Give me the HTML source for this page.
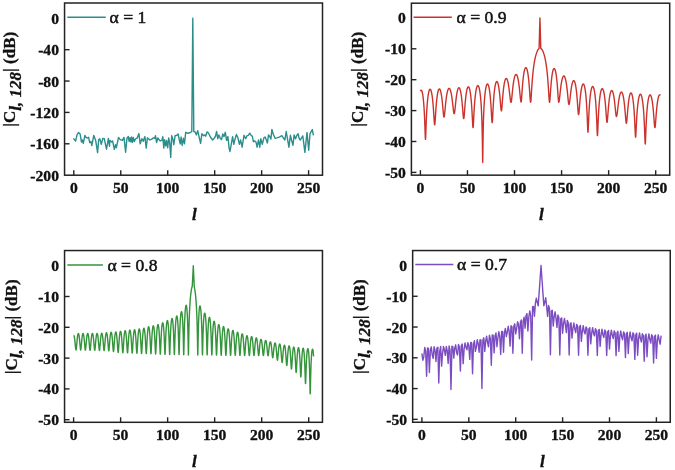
<!DOCTYPE html>
<html><head><meta charset="utf-8"><title>figure</title><style>html,body{margin:0;padding:0;background:#fff;}
body{width:675px;height:470px;position:relative;overflow:hidden;}
.tk{font-family:"Liberation Serif", "Times New Roman", serif;font-weight:bold;font-size:15.6px;fill:#111;stroke:#111;stroke-width:0.35px;}
.lg{font-family:"Liberation Serif", "Times New Roman", serif;font-size:17.6px;fill:#111;stroke:#111;stroke-width:0.5px;}
.xl{font-family:"Liberation Serif", "Times New Roman", serif;font-weight:bold;font-style:italic;font-size:17px;fill:#111;stroke:#111;stroke-width:0.35px;}
.yl{font-family:"Liberation Serif", "Times New Roman", serif;font-weight:bold;font-size:17px;fill:#111;stroke:#111;stroke-width:0.3px;}
.sub{font-style:italic;}
</style></head>
<body>
<svg width="675" height="470" viewBox="0 0 675 470" style="position:absolute;left:0;top:0">
<rect x="0" y="0" width="675" height="470" fill="#fff"/>
<clipPath id="clip0"><rect x="64.55" y="3.0" width="257.95" height="172.2"/></clipPath>
<g clip-path="url(#clip0)"><polyline points="73.4,138.4 75.6,141 77.1,134.7 78.6,132.5 80.1,133.9 81.5,142.1 82.3,139.9 83.3,143.3 84.9,135.4 86,137.3 87.5,138 88.6,137.3 89.7,142.5 90.9,141.4 91.8,145.5 93.8,135.4 95.7,140.6 97.6,152.6 98.7,139.5 99.8,138.8 101.3,144.4 102.8,138.4 104.3,138.8 106.5,149.2 108.4,138.4 109.5,146.2 110,140.4 111.7,142.1 112.6,140.9 114.3,149.4 115.5,144.7 116.4,147.7 118.5,137.4 120.2,139.6 122.3,140.4 124,137.4 125.6,152.3 127,137.9 128.3,136.6 129.1,141.5 130,137.8 130.8,141.8 131.6,137 132.4,142.3 133.3,137.5 134.3,141.5 135.5,139 137.2,137.9 138.9,133.6 140.2,143.8 141.9,138.7 143.2,141.3 144.9,136.6 146.2,148.1 147.4,137.9 150,140 151.7,139.1 153.4,137.9 154.7,138.3 155.5,135.7 156.6,142.6 157.8,137.9 158.9,139.6 160.2,140.9 161.9,140.4 162.8,136.6 163.8,148.1 164.6,139.6 165.7,146 166.6,140.5 167.7,147.7 168.7,137.9 169.7,143 170.7,157.4 171.7,135.7 173,139.6 173.8,144.7 175.1,135.7 176.8,135.3 178.1,134 179.4,140.4 180.2,143.8 181.1,137 182.2,145.5 183.4,138.3 184.5,143.8 185.7,132.3 187.4,133.2 190,132.8 191.8,131.5 192.8,18.3 193.8,131.5 195.1,131.9 196.4,134.9 197.7,130.6 198.9,136.2 200.6,143.4 201.9,133.6 203.6,135.7 204.9,134.9 205.7,136.2 207,131.9 208.3,132.8 210.4,137 212.6,140 214.3,138.3 215.5,136.2 216.6,131.5 217.7,138.7 218.9,134.9 220.2,138.3 221.5,139.6 222.8,134 224,136.6 225.3,132.3 226.6,140.4 227.9,136.6 229.1,148.1 230,151.5 231.3,143.8 232.6,136.6 233.8,144.3 234.7,140.4 236.4,134.5 237.8,137.4 239.4,144.3 240.6,140 242.1,147.2 244,135.3 245.7,138.7 247,135.7 248.3,135.3 249.7,133.2 251.3,135.7 252.3,136.2 253.4,141.7 254.7,140.9 256,142.1 257.1,147.2 258.5,140 259.8,147.2 260.8,138.7 262.3,144.3 263.9,137.9 265.1,137 266.2,139.6 267.4,143 268.5,134.9 270,137 270.9,139.1 271.9,129.4 273.4,134.5 275.1,138.3 276.8,137.9 278.5,137.4 280.2,136.6 281.9,135.7 283.6,138.3 284.9,140 286.2,131.5 287.4,138.3 288.9,147.2 290.4,135.3 291.5,140 293,145.3 294.1,135 295.5,138.8 296.8,135.4 298.1,133.7 298.9,137.6 300.2,140.1 302.8,135.9 304.9,152.4 307,132.4 308.7,150.3 310,133.7 312.3,129.5 313.4,135.4" fill="none" stroke="#2a8e8c" stroke-width="1.4" stroke-linejoin="round" stroke-linecap="butt"/></g>
<rect x="64.55" y="3.0" width="257.95" height="172.2" fill="none" stroke="#222" stroke-width="1.5"/>
<line x1="73.8" y1="175.2" x2="73.8" y2="170.2" stroke="#222" stroke-width="1.4"/>
<text x="73.8" y="193.3" text-anchor="middle" class="tk">0</text>
<line x1="120.76" y1="175.2" x2="120.76" y2="170.2" stroke="#222" stroke-width="1.4"/>
<text x="120.76" y="193.3" text-anchor="middle" class="tk">50</text>
<line x1="167.72" y1="175.2" x2="167.72" y2="170.2" stroke="#222" stroke-width="1.4"/>
<text x="167.72" y="193.3" text-anchor="middle" class="tk">100</text>
<line x1="214.68" y1="175.2" x2="214.68" y2="170.2" stroke="#222" stroke-width="1.4"/>
<text x="214.68" y="193.3" text-anchor="middle" class="tk">150</text>
<line x1="261.64" y1="175.2" x2="261.64" y2="170.2" stroke="#222" stroke-width="1.4"/>
<text x="261.64" y="193.3" text-anchor="middle" class="tk">200</text>
<line x1="308.6" y1="175.2" x2="308.6" y2="170.2" stroke="#222" stroke-width="1.4"/>
<text x="308.6" y="193.3" text-anchor="middle" class="tk">250</text>
<text x="58.95" y="23.8" text-anchor="end" class="tk">0</text>
<line x1="64.55" y1="49.67" x2="69.55" y2="49.67" stroke="#222" stroke-width="1.4"/>
<text x="58.95" y="55.17" text-anchor="end" class="tk">-40</text>
<line x1="64.55" y1="81.04" x2="69.55" y2="81.04" stroke="#222" stroke-width="1.4"/>
<text x="58.95" y="86.54" text-anchor="end" class="tk">-80</text>
<line x1="64.55" y1="112.41" x2="69.55" y2="112.41" stroke="#222" stroke-width="1.4"/>
<text x="58.95" y="117.91" text-anchor="end" class="tk">-120</text>
<line x1="64.55" y1="143.78" x2="69.55" y2="143.78" stroke="#222" stroke-width="1.4"/>
<text x="58.95" y="149.28" text-anchor="end" class="tk">-160</text>
<text x="58.95" y="180.65" text-anchor="end" class="tk">-200</text>
<line x1="67.3" y1="17.3" x2="105.8" y2="17.3" stroke="#2a8e8c" stroke-width="1.5"/>
<text x="109.6" y="23.2" class="lg">α = 1</text>
<text x="194.43" y="219.9" text-anchor="middle" class="xl">l</text>
<text transform="translate(15.1,126.7) rotate(-90)" class="yl">|C<tspan class="sub" dy="5.6">l, 128</tspan><tspan dy="-5.6">| (dB)</tspan></text>
<clipPath id="clip1"><rect x="411.4" y="3.2" width="258.30000000000007" height="171.95000000000002"/></clipPath>
<g clip-path="url(#clip1)"><polyline points="420.4,91.2 420.49,90.96 420.59,90.76 420.68,90.59 420.78,90.45 420.87,90.34 420.96,90.27 421.06,90.22 421.15,90.21 421.25,90.22 421.34,90.27 421.44,90.34 421.53,90.45 421.62,90.59 421.72,90.76 421.81,90.96 421.91,91.19 422,91.46 422.09,91.76 422.19,92.1 422.28,92.46 422.38,92.87 422.47,93.31 422.56,93.79 422.66,94.31 422.75,94.87 422.85,95.47 422.94,96.11 423.04,96.81 423.13,97.55 423.22,98.34 423.32,99.18 423.41,100.08 423.51,101.04 423.6,102.07 423.69,103.16 423.79,104.32 423.88,105.57 423.98,106.9 424.07,108.32 424.16,109.84 424.26,111.48 424.35,113.22 424.45,115.1 424.54,117.12 424.64,119.29 424.73,121.61 424.82,124.09 424.92,126.73 425.01,129.47 425.11,132.25 425.2,134.9 425.29,137.19 425.39,138.78 425.48,139.34 425.58,138.6 425.67,136.93 425.76,134.64 425.86,132.03 425.95,129.32 426.05,126.65 426.14,124.09 426.24,121.67 426.33,119.4 426.42,117.27 426.52,115.29 426.61,113.44 426.71,111.71 426.8,110.1 426.89,108.59 426.99,107.18 427.08,105.85 427.18,104.6 427.27,103.43 427.36,102.33 427.46,101.3 427.55,100.33 427.65,99.41 427.74,98.55 427.84,97.74 427.93,96.98 428.02,96.26 428.12,95.59 428.21,94.96 428.31,94.37 428.4,93.82 428.49,93.3 428.59,92.82 428.68,92.37 428.78,91.96 428.87,91.58 428.96,91.23 429.06,90.91 429.15,90.62 429.25,90.36 429.34,90.13 429.44,89.93 429.53,89.76 429.62,89.61 429.72,89.49 429.81,89.4 429.91,89.33 430,89.29 430.09,89.28 430.19,89.29 430.28,89.33 430.38,89.4 430.47,89.49 430.56,89.61 430.66,89.75 430.75,89.93 430.85,90.13 430.94,90.35 431.04,90.61 431.13,90.89 431.22,91.21 431.32,91.55 431.41,91.92 431.51,92.32 431.6,92.76 431.69,93.22 431.79,93.72 431.88,94.25 431.98,94.82 432.07,95.42 432.16,96.07 432.26,96.74 432.35,97.46 432.45,98.23 432.54,99.03 432.64,99.88 432.73,100.77 432.82,101.72 432.92,102.71 433.01,103.76 433.11,104.86 433.2,106.01 433.29,107.22 433.39,108.48 433.48,109.8 433.58,111.18 433.67,112.6 433.77,114.06 433.86,115.56 433.95,117.06 434.05,118.56 434.14,120.01 434.24,121.36 434.33,122.58 434.42,123.59 434.52,124.33 434.61,124.75 434.71,124.81 434.8,124.54 434.89,123.94 434.99,123.04 435.08,121.9 435.18,120.6 435.27,119.18 435.37,117.71 435.46,116.2 435.55,114.7 435.65,113.22 435.74,111.78 435.84,110.39 435.93,109.05 436.02,107.76 436.12,106.53 436.21,105.35 436.31,104.23 436.4,103.16 436.49,102.14 436.59,101.18 436.68,100.26 436.78,99.39 436.87,98.57 436.97,97.78 437.06,97.04 437.15,96.34 437.25,95.68 437.34,95.06 437.44,94.47 437.53,93.92 437.62,93.4 437.72,92.91 437.81,92.45 437.91,92.03 438,91.64 438.09,91.27 438.19,90.93 438.28,90.63 438.38,90.35 438.47,90.09 438.57,89.87 438.66,89.67 438.75,89.49 438.85,89.34 438.94,89.22 439.04,89.12 439.13,89.05 439.22,89 439.32,88.97 439.41,88.97 439.51,89 439.6,89.05 439.69,89.12 439.79,89.22 439.88,89.34 439.98,89.49 440.07,89.66 440.17,89.86 440.26,90.08 440.35,90.33 440.45,90.6 440.54,90.9 440.64,91.23 440.73,91.58 440.82,91.97 440.92,92.38 441.01,92.81 441.11,93.28 441.2,93.78 441.29,94.3 441.39,94.86 441.48,95.45 441.58,96.07 441.67,96.73 441.77,97.41 441.86,98.13 441.95,98.89 442.05,99.68 442.14,100.5 442.24,101.36 442.33,102.25 442.42,103.18 442.52,104.14 442.61,105.13 442.71,106.15 442.8,107.19 442.89,108.24 442.99,109.31 443.08,110.38 443.18,111.43 443.27,112.46 443.37,113.44 443.46,114.35 443.55,115.17 443.65,115.88 443.74,116.44 443.84,116.84 443.93,117.06 444.02,117.09 444.12,116.97 444.21,116.69 444.31,116.25 444.4,115.67 444.49,114.98 444.59,114.19 444.68,113.32 444.78,112.4 444.87,111.43 444.97,110.44 445.06,109.44 445.15,108.44 445.25,107.44 445.34,106.46 445.44,105.49 445.53,104.55 445.62,103.64 445.72,102.75 445.81,101.88 445.91,101.05 446,100.25 446.09,99.48 446.19,98.74 446.28,98.03 446.38,97.34 446.47,96.69 446.57,96.07 446.66,95.47 446.75,94.9 446.85,94.36 446.94,93.85 447.04,93.36 447.13,92.89 447.22,92.45 447.32,92.04 447.41,91.65 447.51,91.28 447.6,90.94 447.69,90.62 447.79,90.32 447.88,90.05 447.98,89.79 448.07,89.56 448.17,89.35 448.26,89.16 448.35,88.99 448.45,88.84 448.54,88.71 448.64,88.6 448.73,88.51 448.82,88.44 448.92,88.39 449.01,88.36 449.11,88.35 449.2,88.36 449.29,88.39 449.39,88.44 449.48,88.51 449.58,88.6 449.67,88.71 449.77,88.83 449.86,88.98 449.95,89.15 450.05,89.34 450.14,89.55 450.24,89.78 450.33,90.03 450.42,90.3 450.52,90.59 450.61,90.91 450.71,91.24 450.8,91.6 450.89,91.98 450.99,92.39 451.08,92.81 451.18,93.26 451.27,93.73 451.37,94.23 451.46,94.75 451.55,95.3 451.65,95.87 451.74,96.46 451.84,97.08 451.93,97.72 452.02,98.39 452.12,99.09 452.21,99.81 452.31,100.55 452.4,101.31 452.49,102.1 452.59,102.9 452.68,103.72 452.78,104.56 452.87,105.41 452.97,106.26 453.06,107.11 453.15,107.96 453.25,108.79 453.34,109.59 453.44,110.36 453.53,111.08 453.62,111.74 453.72,112.33 453.81,112.82 453.91,113.21 454,113.5 454.09,113.66 454.19,113.69 454.28,113.66 454.38,113.47 454.47,113.14 454.57,112.68 454.66,112.1 454.75,111.42 454.85,110.65 454.94,109.82 455.04,108.94 455.13,108.03 455.22,107.1 455.32,106.16 455.41,105.22 455.51,104.29 455.6,103.37 455.69,102.47 455.79,101.59 455.88,100.73 455.98,99.9 456.07,99.1 456.17,98.32 456.26,97.58 456.35,96.86 456.45,96.18 456.54,95.52 456.64,94.9 456.73,94.3 456.82,93.73 456.92,93.19 457.01,92.68 457.11,92.19 457.2,91.73 457.3,91.3 457.39,90.9 457.48,90.52 457.58,90.17 457.67,89.84 457.77,89.53 457.86,89.25 457.95,89 458.05,88.77 458.14,88.56 458.24,88.38 458.33,88.22 458.42,88.08 458.52,87.96 458.61,87.87 458.71,87.81 458.8,87.76 458.9,87.74 458.99,87.74 459.08,87.76 459.18,87.81 459.27,87.87 459.37,87.97 459.46,88.08 459.55,88.22 459.65,88.38 459.74,88.57 459.84,88.78 459.93,89.01 460.02,89.27 460.12,89.56 460.21,89.87 460.31,90.2 460.4,90.57 460.5,90.96 460.59,91.38 460.68,91.82 460.78,92.3 460.87,92.8 460.97,93.34 461.06,93.9 461.15,94.5 461.25,95.14 461.34,95.8 461.44,96.5 461.53,97.24 461.62,98.01 461.72,98.82 461.81,99.67 461.91,100.55 462,101.48 462.1,102.44 462.19,103.45 462.28,104.49 462.38,105.56 462.47,106.68 462.57,107.82 462.66,108.98 462.75,110.16 462.85,111.35 462.94,112.53 463.04,113.68 463.13,114.77 463.22,115.8 463.32,116.71 463.41,117.48 463.51,118.07 463.6,118.46 463.7,118.63 463.79,118.58 463.88,118.27 463.98,117.72 464.07,116.96 464.17,116.02 464.26,114.96 464.35,113.8 464.45,112.58 464.54,111.32 464.64,110.06 464.73,108.8 464.82,107.55 464.92,106.34 465.01,105.15 465.11,104.01 465.2,102.91 465.3,101.85 465.39,100.83 465.48,99.86 465.58,98.93 465.67,98.04 465.77,97.19 465.86,96.39 465.95,95.62 466.05,94.89 466.14,94.2 466.24,93.55 466.33,92.93 466.42,92.34 466.52,91.79 466.61,91.27 466.71,90.79 466.8,90.33 466.9,89.9 466.99,89.51 467.08,89.14 467.18,88.8 467.27,88.49 467.37,88.21 467.46,87.95 467.55,87.72 467.65,87.52 467.74,87.34 467.84,87.19 467.93,87.06 468.02,86.96 468.12,86.89 468.21,86.84 468.31,86.81 468.4,86.81 468.5,86.84 468.59,86.89 468.68,86.96 468.78,87.06 468.87,87.19 468.97,87.34 469.06,87.52 469.15,87.73 469.25,87.96 469.34,88.22 469.44,88.51 469.53,88.83 469.62,89.17 469.72,89.55 469.81,89.96 469.91,90.4 470,90.87 470.1,91.37 470.19,91.91 470.28,92.48 470.38,93.09 470.47,93.74 470.57,94.43 470.66,95.16 470.75,95.94 470.85,96.76 470.94,97.63 471.04,98.55 471.13,99.52 471.22,100.55 471.32,101.64 471.41,102.78 471.51,104 471.6,105.28 471.7,106.63 471.79,108.06 471.88,109.56 471.98,111.15 472.07,112.8 472.17,114.53 472.26,116.33 472.35,118.16 472.45,120.01 472.54,121.84 472.64,123.56 472.73,125.11 472.82,126.36 472.92,127.22 473.01,127.59 473.11,127.51 473.2,126.9 473.3,125.82 473.39,124.39 473.48,122.72 473.58,120.91 473.67,119.04 473.77,117.17 473.86,115.32 473.95,113.53 474.05,111.81 474.14,110.17 474.24,108.6 474.33,107.11 474.42,105.7 474.52,104.36 474.61,103.09 474.71,101.88 474.8,100.75 474.9,99.67 474.99,98.64 475.08,97.68 475.18,96.76 475.27,95.89 475.37,95.07 475.46,94.3 475.55,93.56 475.65,92.87 475.74,92.21 475.84,91.6 475.93,91.02 476.02,90.47 476.12,89.95 476.21,89.47 476.31,89.02 476.4,88.6 476.5,88.21 476.59,87.85 476.68,87.52 476.78,87.22 476.87,86.94 476.97,86.69 477.06,86.46 477.15,86.26 477.25,86.09 477.34,85.94 477.44,85.82 477.53,85.72 477.62,85.65 477.72,85.6 477.81,85.57 477.91,85.57 478,85.6 478.1,85.65 478.19,85.72 478.28,85.82 478.38,85.94 478.47,86.09 478.57,86.27 478.66,86.47 478.75,86.7 478.85,86.95 478.94,87.23 479.04,87.54 479.13,87.88 479.23,88.25 479.32,88.65 479.41,89.08 479.51,89.54 479.6,90.03 479.7,90.56 479.79,91.13 479.88,91.73 479.98,92.37 480.07,93.05 480.17,93.78 480.26,94.55 480.35,95.37 480.45,96.24 480.54,97.17 480.64,98.16 480.73,99.2 480.83,100.32 480.92,101.51 481.01,102.78 481.11,104.14 481.2,105.59 481.3,107.16 481.39,108.85 481.48,110.67 481.58,112.65 481.67,114.81 481.77,117.18 481.86,119.8 481.95,122.71 482.05,125.99 482.14,129.71 482.24,133.99 482.33,138.97 482.43,144.84 482.52,151.62 482.61,158.59 482.71,162.51 482.8,157.97 482.9,150.35 482.99,143.21 483.08,137.17 483.18,132.09 483.27,127.75 483.37,124 483.46,120.7 483.55,117.77 483.65,115.15 483.74,112.77 483.84,110.61 483.93,108.63 484.03,106.81 484.12,105.13 484.21,103.56 484.31,102.11 484.4,100.76 484.5,99.49 484.59,98.31 484.68,97.2 484.78,96.16 484.87,95.18 484.97,94.27 485.06,93.4 485.15,92.59 485.25,91.83 485.34,91.11 485.44,90.44 485.53,89.81 485.63,89.22 485.72,88.67 485.81,88.15 485.91,87.67 486,87.22 486.1,86.81 486.19,86.43 486.28,86.07 486.38,85.75 486.47,85.46 486.57,85.19 486.66,84.96 486.75,84.75 486.85,84.57 486.94,84.41 487.04,84.28 487.13,84.18 487.23,84.11 487.32,84.05 487.41,84.03 487.51,84.03 487.6,84.05 487.7,84.11 487.79,84.18 487.88,84.28 487.98,84.41 488.07,84.56 488.17,84.74 488.26,84.95 488.35,85.18 488.45,85.44 488.54,85.73 488.64,86.04 488.73,86.39 488.83,86.76 488.92,87.16 489.01,87.6 489.11,88.06 489.2,88.56 489.3,89.09 489.39,89.65 489.48,90.25 489.58,90.89 489.67,91.57 489.77,92.28 489.86,93.04 489.95,93.84 490.05,94.68 490.14,95.57 490.24,96.51 490.33,97.51 490.43,98.55 490.52,99.65 490.61,100.81 490.71,102.03 490.8,103.32 490.9,104.67 490.99,106.08 491.08,107.56 491.18,109.09 491.27,110.69 491.37,112.33 491.46,113.99 491.55,115.66 491.65,117.29 491.74,118.83 491.84,120.21 491.93,121.36 492.03,122.19 492.12,122.64 492.21,122.65 492.31,122.23 492.4,121.3 492.5,119.97 492.59,118.35 492.68,116.56 492.78,114.68 492.87,112.79 492.97,110.92 493.06,109.1 493.15,107.35 493.25,105.68 493.34,104.08 493.44,102.57 493.53,101.14 493.63,99.78 493.72,98.5 493.81,97.28 493.91,96.13 494,95.05 494.1,94.02 494.19,93.05 494.28,92.14 494.38,91.27 494.47,90.46 494.57,89.69 494.66,88.96 494.75,88.28 494.85,87.64 494.94,87.03 495.04,86.46 495.13,85.93 495.23,85.44 495.32,84.97 495.41,84.54 495.51,84.15 495.6,83.78 495.7,83.44 495.79,83.13 495.88,82.86 495.98,82.6 496.07,82.38 496.17,82.19 496.26,82.02 496.35,81.87 496.45,81.76 496.54,81.67 496.64,81.61 496.73,81.57 496.83,81.55 496.92,81.57 497.01,81.6 497.11,81.67 497.2,81.76 497.3,81.87 497.39,82.01 497.48,82.18 497.58,82.37 497.67,82.59 497.77,82.84 497.86,83.11 497.95,83.41 498.05,83.73 498.14,84.09 498.24,84.47 498.33,84.89 498.43,85.33 498.52,85.8 498.61,86.3 498.71,86.84 498.8,87.41 498.9,88.01 498.99,88.64 499.08,89.31 499.18,90.02 499.27,90.76 499.37,91.54 499.46,92.35 499.55,93.2 499.65,94.09 499.74,95.02 499.84,95.99 499.93,97 500.03,98.04 500.12,99.11 500.21,100.21 500.31,101.33 500.4,102.47 500.5,103.62 500.59,104.76 500.68,105.87 500.78,106.94 500.87,107.94 500.97,108.84 501.06,109.62 501.15,110.23 501.25,110.67 501.34,110.9 501.44,110.91 501.53,110.68 501.63,110.21 501.72,109.52 501.81,108.64 501.91,107.63 502,106.5 502.1,105.31 502.19,104.07 502.28,102.81 502.38,101.55 502.47,100.31 502.57,99.09 502.66,97.9 502.75,96.74 502.85,95.63 502.94,94.55 503.04,93.52 503.13,92.53 503.23,91.59 503.32,90.68 503.41,89.82 503.51,88.99 503.6,88.21 503.7,87.46 503.79,86.75 503.88,86.07 503.98,85.43 504.07,84.82 504.17,84.25 504.26,83.7 504.36,83.19 504.45,82.71 504.54,82.25 504.64,81.83 504.73,81.43 504.83,81.06 504.92,80.72 505.01,80.4 505.11,80.11 505.2,79.84 505.3,79.6 505.39,79.38 505.48,79.19 505.58,79.02 505.67,78.87 505.77,78.74 505.86,78.64 505.96,78.56 506.05,78.51 506.14,78.48 506.24,78.46 506.33,78.48 506.43,78.51 506.52,78.56 506.61,78.64 506.71,78.74 506.8,78.86 506.9,79.01 506.99,79.17 507.08,79.36 507.18,79.58 507.27,79.81 507.37,80.07 507.46,80.35 507.56,80.66 507.65,80.98 507.74,81.34 507.84,81.71 507.93,82.11 508.03,82.54 508.12,82.99 508.21,83.46 508.31,83.97 508.4,84.49 508.5,85.05 508.59,85.62 508.68,86.23 508.78,86.86 508.87,87.51 508.97,88.2 509.06,88.9 509.16,89.63 509.25,90.39 509.34,91.16 509.44,91.95 509.53,92.77 509.63,93.59 509.72,94.42 509.81,95.26 509.91,96.1 510,96.92 510.1,97.73 510.19,98.51 510.28,99.26 510.38,99.95 510.47,100.57 510.57,101.12 510.66,101.57 510.76,101.92 510.85,102.15 510.94,102.27 511.04,102.26 511.13,102.17 511.23,101.93 511.32,101.55 511.41,101.02 511.51,100.39 511.6,99.65 511.7,98.83 511.79,97.96 511.88,97.04 511.98,96.09 512.07,95.12 512.17,94.15 512.26,93.19 512.36,92.23 512.45,91.29 512.54,90.37 512.64,89.47 512.73,88.59 512.83,87.75 512.92,86.93 513.01,86.14 513.11,85.37 513.2,84.64 513.3,83.94 513.39,83.26 513.48,82.62 513.58,82 513.67,81.41 513.77,80.84 513.86,80.31 513.96,79.8 514.05,79.31 514.14,78.85 514.24,78.42 514.33,78.01 514.43,77.63 514.52,77.26 514.61,76.93 514.71,76.61 514.8,76.32 514.9,76.05 514.99,75.8 515.08,75.57 515.18,75.37 515.27,75.18 515.37,75.02 515.46,74.88 515.56,74.75 515.65,74.65 515.74,74.57 515.84,74.51 515.93,74.47 516.03,74.45 516.12,74.45 516.21,74.47 516.31,74.51 516.4,74.57 516.5,74.65 516.59,74.75 516.68,74.88 516.78,75.02 516.87,75.18 516.97,75.37 517.06,75.57 517.16,75.8 517.25,76.05 517.34,76.32 517.44,76.61 517.53,76.92 517.63,77.26 517.72,77.62 517.81,78.01 517.91,78.41 518,78.85 518.1,79.31 518.19,79.79 518.28,80.3 518.38,80.83 518.47,81.39 518.57,81.98 518.66,82.6 518.76,83.24 518.85,83.91 518.94,84.61 519.04,85.34 519.13,86.1 519.23,86.88 519.32,87.7 519.41,88.54 519.51,89.4 519.6,90.29 519.7,91.21 519.79,92.14 519.88,93.08 519.98,94.04 520.07,94.99 520.17,95.94 520.26,96.87 520.36,97.78 520.45,98.63 520.54,99.43 520.64,100.15 520.73,100.77 520.83,101.27 520.92,101.64 521.01,101.87 521.11,101.95 521.2,101.8 521.3,101.35 521.39,100.64 521.48,99.7 521.58,98.59 521.67,97.36 521.77,96.04 521.86,94.68 521.96,93.3 522.05,91.92 522.14,90.57 522.24,89.24 522.33,87.96 522.43,86.71 522.52,85.52 522.61,84.37 522.71,83.27 522.8,82.22 522.9,81.22 522.99,80.26 523.08,79.35 523.18,78.49 523.27,77.66 523.37,76.88 523.46,76.13 523.56,75.43 523.65,74.76 523.74,74.13 523.84,73.53 523.93,72.96 524.03,72.43 524.12,71.93 524.21,71.47 524.31,71.03 524.4,70.62 524.5,70.24 524.59,69.88 524.68,69.56 524.78,69.26 524.87,68.99 524.97,68.74 525.06,68.52 525.16,68.33 525.25,68.16 525.34,68.01 525.44,67.89 525.53,67.8 525.63,67.72 525.72,67.68 525.81,67.65 525.91,67.65 526,67.68 526.1,67.72 526.19,67.8 526.28,67.89 526.38,68.01 526.47,68.16 526.57,68.33 526.66,68.52 526.76,68.74 526.85,68.99 526.94,69.26 527.04,69.56 527.13,69.89 527.23,70.24 527.32,70.62 527.41,71.03 527.51,71.47 527.6,71.94 527.7,72.44 527.79,72.97 527.89,73.53 527.98,74.13 528.07,74.77 528.17,75.44 528.26,76.14 528.36,76.89 528.45,77.68 528.54,78.5 528.64,79.37 528.73,80.29 528.83,81.25 528.92,82.26 529.01,83.31 529.11,84.42 529.2,85.57 529.3,86.77 529.39,88.02 529.49,89.32 529.58,90.66 529.67,92.03 529.77,93.42 529.86,94.82 529.96,96.2 530.05,97.54 530.14,98.8 530.24,99.94 530.33,100.9 530.43,101.63 530.52,102.1 530.61,102.26 530.71,102.08 530.8,101.55 530.9,100.72 530.99,99.64 531.09,98.36 531.18,96.96 531.27,95.47 531.37,93.94 531.46,92.39 531.56,90.86 531.65,89.35 531.74,87.88 531.84,86.44 531.93,85.06 532.03,83.72 532.12,82.43 532.21,81.18 532.31,79.98 532.4,78.83 532.5,77.72 532.59,76.65 532.69,75.62 532.78,74.63 532.87,73.67 532.97,72.75 533.06,71.86 533.16,71 533.25,70.18 533.34,69.37 533.44,68.6 533.53,67.85 533.63,67.13 533.72,66.43 533.81,65.75 533.91,65.1 534,64.46 534.1,63.85 534.19,63.25 534.29,62.67 534.38,62.11 534.47,61.57 534.57,61.04 534.66,60.53 534.76,60.03 534.85,59.55 534.94,59.08 535.04,58.63 535.13,58.19 535.23,57.76 535.32,57.35 535.41,56.95 535.51,56.56 535.6,56.18 535.7,55.81 535.79,55.46 535.89,55.11 535.98,54.78 536.07,54.45 536.17,54.14 536.26,53.83 536.36,53.54 536.45,53.25 536.54,52.98 536.64,52.71 536.73,52.45 536.83,52.2 536.92,51.96 537.01,51.73 537.11,51.51 537.2,51.29 537.3,51.08 537.39,50.88 537.49,50.69 537.58,50.51 537.67,50.33 537.77,50.16 537.86,50 537.96,49.84 538.05,49.7 538.14,49.56 538.24,49.42 538.33,49.3 538.43,49.18 538.52,49.07 538.61,48.96 538.71,48.86 538.8,48.77 538.9,48.69 538.99,48.61 539.09,48.54 539.93,17.9 540.78,48.36 540.87,48.42 540.97,48.47 541.06,48.54 541.16,48.61 541.25,48.69 541.34,48.77 541.44,48.86 541.53,48.96 541.63,49.07 541.72,49.18 541.81,49.3 541.91,49.42 542,49.56 542.1,49.7 542.19,49.84 542.29,50 542.38,50.16 542.47,50.33 542.57,50.51 542.66,50.69 542.76,50.88 542.85,51.08 542.94,51.29 543.04,51.51 543.13,51.73 543.23,51.96 543.32,52.2 543.41,52.45 543.51,52.71 543.6,52.98 543.7,53.25 543.79,53.54 543.89,53.83 543.98,54.14 544.07,54.45 544.17,54.78 544.26,55.11 544.36,55.46 544.45,55.81 544.54,56.18 544.64,56.56 544.73,56.95 544.83,57.35 544.92,57.76 545.01,58.19 545.11,58.63 545.2,59.08 545.3,59.55 545.39,60.03 545.49,60.53 545.58,61.04 545.67,61.57 545.77,62.11 545.86,62.67 545.96,63.25 546.05,63.85 546.14,64.46 546.24,65.1 546.33,65.75 546.43,66.43 546.52,67.13 546.61,67.85 546.71,68.6 546.8,69.37 546.9,70.18 546.99,71 547.09,71.86 547.18,72.75 547.27,73.67 547.37,74.63 547.46,75.62 547.56,76.65 547.65,77.72 547.74,78.83 547.84,79.98 547.93,81.18 548.03,82.43 548.12,83.72 548.21,85.06 548.31,86.44 548.4,87.88 548.5,89.35 548.59,90.86 548.69,92.39 548.78,93.94 548.87,95.47 548.97,96.96 549.06,98.36 549.16,99.64 549.25,100.72 549.34,101.55 549.44,102.08 549.53,102.26 549.63,102.1 549.72,101.65 549.82,100.93 549.91,99.98 550,98.86 550.1,97.62 550.19,96.29 550.29,94.92 550.38,93.54 550.47,92.16 550.57,90.8 550.66,89.48 550.76,88.19 550.85,86.95 550.94,85.76 551.04,84.62 551.13,83.53 551.23,82.49 551.32,81.49 551.42,80.54 551.51,79.64 551.6,78.78 551.7,77.97 551.79,77.2 551.89,76.47 551.98,75.78 552.07,75.12 552.17,74.51 552.26,73.92 552.36,73.38 552.45,72.86 552.54,72.38 552.64,71.93 552.73,71.51 552.83,71.12 552.92,70.77 553.02,70.44 553.11,70.13 553.2,69.86 553.3,69.61 553.39,69.39 553.49,69.2 553.58,69.03 553.67,68.89 553.77,68.78 553.86,68.69 553.96,68.63 554.05,68.59 554.14,68.58 554.24,68.59 554.33,68.63 554.43,68.69 554.52,68.78 554.62,68.89 554.71,69.03 554.8,69.2 554.9,69.39 554.99,69.61 555.09,69.86 555.18,70.13 555.27,70.44 555.37,70.77 555.46,71.12 555.56,71.51 555.65,71.93 555.74,72.38 555.84,72.86 555.93,73.38 556.03,73.92 556.12,74.51 556.22,75.12 556.31,75.78 556.4,76.47 556.5,77.2 556.59,77.97 556.69,78.78 556.78,79.64 556.87,80.54 556.97,81.49 557.06,82.49 557.16,83.53 557.25,84.62 557.34,85.76 557.44,86.95 557.53,88.19 557.63,89.48 557.72,90.8 557.82,92.16 557.91,93.54 558,94.92 558.1,96.29 558.19,97.62 558.29,98.86 558.38,99.98 558.47,100.93 558.57,101.65 558.66,102.1 558.76,102.26 558.85,102.21 558.94,102.02 559.04,101.71 559.13,101.27 559.23,100.73 559.32,100.09 559.42,99.38 559.51,98.61 559.6,97.79 559.7,96.93 559.79,96.06 559.89,95.17 559.98,94.27 560.07,93.39 560.17,92.5 560.26,91.64 560.36,90.79 560.45,89.96 560.54,89.15 560.64,88.36 560.73,87.6 560.83,86.87 560.92,86.16 561.02,85.48 561.11,84.82 561.2,84.19 561.3,83.58 561.39,83.01 561.49,82.45 561.58,81.92 561.67,81.42 561.77,80.94 561.86,80.49 561.96,80.06 562.05,79.65 562.14,79.27 562.24,78.9 562.33,78.57 562.43,78.25 562.52,77.95 562.62,77.68 562.71,77.43 562.8,77.2 562.9,76.99 562.99,76.8 563.09,76.63 563.18,76.48 563.27,76.35 563.37,76.24 563.46,76.15 563.56,76.08 563.65,76.03 563.74,76 563.84,75.99 563.93,76 564.03,76.03 564.12,76.08 564.22,76.15 564.31,76.24 564.4,76.35 564.5,76.48 564.59,76.63 564.69,76.8 564.78,76.99 564.87,77.2 564.97,77.44 565.06,77.69 565.16,77.97 565.25,78.27 565.34,78.59 565.44,78.93 565.53,79.3 565.63,79.69 565.72,80.1 565.82,80.54 565.91,81 566,81.49 566.1,82.01 566.19,82.55 566.29,83.11 566.38,83.71 566.47,84.33 566.57,84.98 566.66,85.66 566.76,86.37 566.85,87.11 566.94,87.88 567.04,88.68 567.13,89.51 567.23,90.36 567.32,91.25 567.42,92.16 567.51,93.09 567.6,94.05 567.7,95.02 567.79,96 567.89,96.99 567.98,97.98 568.07,98.95 568.17,99.9 568.26,100.8 568.36,101.64 568.45,102.41 568.54,103.08 568.64,103.64 568.73,104.05 568.83,104.32 568.92,104.42 569.02,104.44 569.11,104.34 569.2,104.11 569.3,103.77 569.39,103.33 569.49,102.79 569.58,102.17 569.67,101.48 569.77,100.74 569.86,99.96 569.96,99.16 570.05,98.33 570.14,97.49 570.24,96.65 570.33,95.82 570.43,94.99 570.52,94.18 570.62,93.38 570.71,92.6 570.8,91.85 570.9,91.12 570.99,90.41 571.09,89.72 571.18,89.06 571.27,88.43 571.37,87.82 571.46,87.24 571.56,86.69 571.65,86.16 571.74,85.65 571.84,85.18 571.93,84.72 572.03,84.3 572.12,83.89 572.22,83.51 572.31,83.16 572.4,82.83 572.5,82.52 572.59,82.24 572.69,81.98 572.78,81.75 572.87,81.53 572.97,81.34 573.06,81.17 573.16,81.03 573.25,80.91 573.35,80.81 573.44,80.73 573.53,80.67 573.63,80.64 573.72,80.63 573.82,80.64 573.91,80.67 574,80.73 574.1,80.81 574.19,80.91 574.29,81.03 574.38,81.18 574.47,81.35 574.57,81.55 574.66,81.77 574.76,82.01 574.85,82.28 574.95,82.58 575.04,82.9 575.13,83.25 575.23,83.62 575.32,84.02 575.42,84.45 575.51,84.91 575.6,85.4 575.7,85.92 575.79,86.47 575.89,87.06 575.98,87.67 576.07,88.32 576.17,89.01 576.26,89.74 576.36,90.5 576.45,91.3 576.55,92.15 576.64,93.03 576.73,93.96 576.83,94.94 576.92,95.96 577.02,97.02 577.11,98.13 577.2,99.29 577.3,100.5 577.39,101.75 577.49,103.03 577.58,104.35 577.67,105.69 577.77,107.04 577.86,108.38 577.96,109.68 578.05,110.92 578.15,112.05 578.24,113.03 578.33,113.81 578.43,114.35 578.52,114.62 578.62,114.63 578.71,114.41 578.8,113.97 578.9,113.33 578.99,112.53 579.09,111.59 579.18,110.55 579.27,109.43 579.37,108.27 579.46,107.09 579.56,105.9 579.65,104.71 579.75,103.55 579.84,102.41 579.93,101.3 580.03,100.23 580.12,99.19 580.22,98.19 580.31,97.23 580.4,96.32 580.5,95.44 580.59,94.6 580.69,93.8 580.78,93.03 580.87,92.31 580.97,91.61 581.06,90.96 581.16,90.34 581.25,89.75 581.35,89.19 581.44,88.67 581.53,88.18 581.63,87.72 581.72,87.28 581.82,86.88 581.91,86.5 582,86.16 582.1,85.84 582.19,85.54 582.29,85.28 582.38,85.04 582.47,84.83 582.57,84.64 582.66,84.47 582.76,84.34 582.85,84.23 582.95,84.14 583.04,84.08 583.13,84.04 583.23,84.03 583.32,84.04 583.42,84.08 583.51,84.14 583.6,84.23 583.7,84.34 583.79,84.48 583.89,84.64 583.98,84.84 584.07,85.05 584.17,85.3 584.26,85.57 584.36,85.87 584.45,86.21 584.55,86.57 584.64,86.96 584.73,87.38 584.83,87.83 584.92,88.32 585.02,88.84 585.11,89.4 585.2,89.99 585.3,90.63 585.39,91.3 585.49,92.02 585.58,92.78 585.67,93.59 585.77,94.44 585.86,95.35 585.96,96.32 586.05,97.34 586.15,98.42 586.24,99.58 586.33,100.8 586.43,102.1 586.52,103.49 586.62,104.96 586.71,106.54 586.8,108.21 586.9,110 586.99,111.91 587.09,113.94 587.18,116.09 587.27,118.38 587.37,120.76 587.46,123.22 587.56,125.68 587.65,128.02 587.75,130.05 587.84,131.53 587.93,132.23 588.03,131.89 588.12,130.85 588.22,129.27 588.31,127.33 588.4,125.2 588.5,122.98 588.59,120.78 588.69,118.64 588.78,116.58 588.87,114.62 588.97,112.77 589.06,111.02 589.16,109.37 589.25,107.81 589.35,106.35 589.44,104.97 589.53,103.67 589.63,102.44 589.72,101.28 589.82,100.19 589.91,99.16 590,98.19 590.1,97.27 590.19,96.4 590.29,95.59 590.38,94.81 590.47,94.08 590.57,93.4 590.66,92.75 590.76,92.14 590.85,91.57 590.95,91.04 591.04,90.54 591.13,90.07 591.23,89.63 591.32,89.23 591.42,88.86 591.51,88.51 591.6,88.2 591.7,87.91 591.79,87.65 591.89,87.42 591.98,87.21 592.07,87.03 592.17,86.88 592.26,86.75 592.36,86.65 592.45,86.58 592.55,86.53 592.64,86.5 592.73,86.5 592.83,86.53 592.92,86.58 593.02,86.65 593.11,86.75 593.2,86.88 593.3,87.03 593.39,87.21 593.49,87.42 593.58,87.65 593.67,87.91 593.77,88.2 593.86,88.52 593.96,88.86 594.05,89.24 594.15,89.64 594.24,90.08 594.33,90.55 594.43,91.05 594.52,91.59 594.62,92.17 594.71,92.78 594.8,93.43 594.9,94.12 594.99,94.86 595.09,95.64 595.18,96.46 595.27,97.34 595.37,98.27 595.46,99.26 595.56,100.3 595.65,101.41 595.75,102.59 595.84,103.84 595.93,105.18 596.03,106.59 596.12,108.1 596.22,109.71 596.31,111.43 596.4,113.27 596.5,115.22 596.59,117.31 596.69,119.53 596.78,121.88 596.88,124.33 596.97,126.86 597.06,129.37 597.16,131.73 597.25,133.73 597.35,135.11 597.44,135.63 597.53,135.06 597.63,133.79 597.72,131.99 597.82,129.88 597.91,127.61 598,125.3 598.1,123.04 598.19,120.85 598.29,118.77 598.38,116.8 598.48,114.93 598.57,113.18 598.66,111.53 598.76,109.98 598.85,108.52 598.95,107.15 599.04,105.85 599.13,104.63 599.23,103.48 599.32,102.4 599.42,101.37 599.51,100.41 599.6,99.49 599.7,98.63 599.79,97.82 599.89,97.05 599.98,96.33 600.08,95.64 600.17,95 600.26,94.39 600.36,93.83 600.45,93.29 600.55,92.79 600.64,92.32 600.73,91.89 600.83,91.48 600.92,91.11 601.02,90.76 601.11,90.44 601.2,90.15 601.3,89.89 601.39,89.65 601.49,89.44 601.58,89.26 601.68,89.1 601.77,88.96 601.86,88.85 601.96,88.77 602.05,88.71 602.15,88.67 602.24,88.66 602.33,88.67 602.43,88.71 602.52,88.77 602.62,88.85 602.71,88.96 602.8,89.1 602.9,89.25 602.99,89.44 603.09,89.64 603.18,89.88 603.28,90.13 603.37,90.42 603.46,90.73 603.56,91.07 603.65,91.43 603.75,91.83 603.84,92.25 603.93,92.7 604.03,93.18 604.12,93.69 604.22,94.24 604.31,94.81 604.4,95.42 604.5,96.07 604.59,96.75 604.69,97.47 604.78,98.22 604.88,99.02 604.97,99.85 605.06,100.73 605.16,101.65 605.25,102.61 605.35,103.62 605.44,104.67 605.53,105.77 605.63,106.92 605.72,108.11 605.82,109.34 605.91,110.61 606,111.91 606.1,113.24 606.19,114.58 606.29,115.9 606.38,117.2 606.48,118.44 606.57,119.58 606.66,120.57 606.76,121.39 606.85,121.98 606.95,122.3 607.04,122.34 607.13,122.15 607.23,121.71 607.32,121.06 607.42,120.21 607.51,119.22 607.6,118.12 607.7,116.94 607.79,115.72 607.89,114.47 607.98,113.23 608.08,111.99 608.17,110.77 608.26,109.59 608.36,108.44 608.45,107.33 608.55,106.25 608.64,105.23 608.73,104.24 608.83,103.29 608.92,102.39 609.02,101.53 609.11,100.71 609.2,99.93 609.3,99.18 609.39,98.48 609.49,97.81 609.58,97.17 609.68,96.57 609.77,96 609.86,95.46 609.96,94.96 610.05,94.48 610.15,94.04 610.24,93.62 610.33,93.23 610.43,92.87 610.52,92.54 610.62,92.24 610.71,91.96 610.8,91.7 610.9,91.48 610.99,91.27 611.09,91.09 611.18,90.94 611.28,90.81 611.37,90.7 611.46,90.62 611.56,90.56 611.65,90.53 611.75,90.51 611.84,90.53 611.93,90.56 612.03,90.62 612.12,90.7 612.22,90.81 612.31,90.94 612.4,91.09 612.5,91.26 612.59,91.46 612.69,91.69 612.78,91.94 612.88,92.21 612.97,92.51 613.06,92.83 613.16,93.18 613.25,93.56 613.35,93.96 613.44,94.39 613.53,94.84 613.63,95.33 613.72,95.84 613.82,96.38 613.91,96.94 614,97.54 614.1,98.17 614.19,98.83 614.29,99.51 614.38,100.23 614.48,100.98 614.57,101.75 614.66,102.56 614.76,103.39 614.85,104.26 614.95,105.14 615.04,106.05 615.13,106.98 615.23,107.92 615.32,108.87 615.42,109.82 615.51,110.76 615.6,111.69 615.7,112.58 615.79,113.42 615.89,114.19 615.98,114.88 616.08,115.47 616.17,115.93 616.26,116.26 616.36,116.45 616.45,116.47 616.55,116.47 616.64,116.34 616.73,116.09 616.83,115.73 616.92,115.27 617.02,114.71 617.11,114.08 617.2,113.39 617.3,112.64 617.39,111.86 617.49,111.05 617.58,110.22 617.68,109.38 617.77,108.54 617.86,107.71 617.96,106.88 618.05,106.07 618.15,105.27 618.24,104.5 618.33,103.74 618.43,103.01 618.52,102.3 618.62,101.61 618.71,100.95 618.8,100.31 618.9,99.7 618.99,99.11 619.09,98.55 619.18,98.02 619.28,97.5 619.37,97.02 619.46,96.56 619.56,96.12 619.65,95.7 619.75,95.31 619.84,94.95 619.93,94.6 620.03,94.28 620.12,93.98 620.22,93.7 620.31,93.45 620.4,93.22 620.5,93.01 620.59,92.82 620.69,92.65 620.78,92.5 620.88,92.38 620.97,92.27 621.06,92.19 621.16,92.13 621.25,92.08 621.35,92.06 621.44,92.06 621.53,92.08 621.63,92.13 621.72,92.19 621.82,92.27 621.91,92.38 622.01,92.51 622.1,92.66 622.19,92.83 622.29,93.02 622.38,93.24 622.48,93.47 622.57,93.74 622.66,94.02 622.76,94.33 622.85,94.66 622.95,95.02 623.04,95.41 623.13,95.81 623.23,96.25 623.32,96.71 623.42,97.2 623.51,97.72 623.61,98.27 623.7,98.85 623.79,99.46 623.89,100.1 623.98,100.77 624.08,101.47 624.17,102.21 624.26,102.99 624.36,103.8 624.45,104.64 624.55,105.52 624.64,106.44 624.73,107.4 624.83,108.39 624.92,109.42 625.02,110.48 625.11,111.58 625.21,112.7 625.3,113.84 625.39,114.99 625.49,116.15 625.58,117.29 625.68,118.41 625.77,119.48 625.86,120.47 625.96,121.35 626.05,122.11 626.15,122.69 626.24,123.09 626.33,123.27 626.43,123.26 626.52,123.02 626.62,122.56 626.71,121.9 626.81,121.07 626.9,120.11 626.99,119.05 627.09,117.92 627.18,116.75 627.28,115.56 627.37,114.36 627.46,113.18 627.56,112.01 627.65,110.87 627.75,109.77 627.84,108.7 627.93,107.67 628.03,106.67 628.12,105.72 628.22,104.81 628.31,103.94 628.41,103.11 628.5,102.32 628.59,101.56 628.69,100.85 628.78,100.17 628.88,99.52 628.97,98.91 629.06,98.34 629.16,97.79 629.25,97.28 629.35,96.8 629.44,96.36 629.53,95.94 629.63,95.55 629.72,95.19 629.82,94.86 629.91,94.56 630.01,94.28 630.1,94.03 630.19,93.81 630.29,93.62 630.38,93.45 630.48,93.31 630.57,93.19 630.66,93.1 630.76,93.04 630.85,93 630.95,92.99 631.04,93 631.13,93.04 631.23,93.1 631.32,93.19 631.42,93.31 631.51,93.45 631.61,93.63 631.7,93.82 631.79,94.05 631.89,94.3 631.98,94.58 632.08,94.9 632.17,95.24 632.26,95.61 632.36,96.01 632.45,96.45 632.55,96.92 632.64,97.42 632.73,97.96 632.83,98.53 632.92,99.15 633.02,99.8 633.11,100.5 633.21,101.24 633.3,102.02 633.39,102.85 633.49,103.74 633.58,104.68 633.68,105.67 633.77,106.72 633.86,107.84 633.96,109.02 634.05,110.28 634.15,111.62 634.24,113.03 634.33,114.53 634.43,116.13 634.52,117.82 634.62,119.61 634.71,121.5 634.81,123.48 634.9,125.55 634.99,127.68 635.09,129.83 635.18,131.92 635.28,133.86 635.37,135.48 635.46,136.64 635.56,137.17 635.65,136.94 635.75,136.16 635.84,134.91 635.93,133.33 636.03,131.53 636.12,129.63 636.22,127.68 636.31,125.75 636.41,123.87 636.5,122.06 636.59,120.32 636.69,118.67 636.78,117.1 636.88,115.6 636.97,114.19 637.06,112.86 637.16,111.59 637.25,110.39 637.35,109.26 637.44,108.19 637.53,107.17 637.63,106.21 637.72,105.3 637.82,104.44 637.91,103.63 638.01,102.86 638.1,102.13 638.19,101.44 638.29,100.79 638.38,100.18 638.48,99.61 638.57,99.06 638.66,98.56 638.76,98.08 638.85,97.64 638.95,97.22 639.04,96.83 639.13,96.48 639.23,96.15 639.32,95.85 639.42,95.57 639.51,95.33 639.61,95.1 639.7,94.91 639.79,94.74 639.89,94.59 639.98,94.47 640.08,94.37 640.17,94.3 640.26,94.25 640.36,94.23 640.45,94.23 640.55,94.25 640.64,94.3 640.73,94.37 640.83,94.47 640.92,94.59 641.02,94.74 641.11,94.91 641.21,95.11 641.3,95.33 641.39,95.58 641.49,95.85 641.58,96.16 641.68,96.49 641.77,96.85 641.86,97.24 641.96,97.66 642.05,98.11 642.15,98.59 642.24,99.1 642.33,99.65 642.43,100.24 642.52,100.86 642.62,101.52 642.71,102.22 642.81,102.96 642.9,103.75 642.99,104.58 643.09,105.46 643.18,106.4 643.28,107.39 643.37,108.44 643.46,109.56 643.56,110.74 643.65,112 643.75,113.33 643.84,114.75 643.94,116.27 644.03,117.88 644.12,119.6 644.22,121.43 644.31,123.39 644.41,125.48 644.5,127.7 644.59,130.05 644.69,132.51 644.78,135.05 644.88,137.57 644.97,139.96 645.06,141.99 645.16,143.41 645.25,143.97 645.35,143.3 645.44,141.82 645.54,139.79 645.63,137.44 645.72,134.97 645.82,132.49 645.91,130.09 646.01,127.79 646.1,125.62 646.19,123.57 646.29,121.65 646.38,119.85 646.48,118.16 646.57,116.58 646.66,115.09 646.76,113.69 646.85,112.37 646.95,111.14 647.04,109.97 647.14,108.87 647.23,107.83 647.32,106.85 647.42,105.93 647.51,105.06 647.61,104.23 647.7,103.46 647.79,102.72 647.89,102.03 647.98,101.38 648.08,100.77 648.17,100.19 648.26,99.65 648.36,99.14 648.45,98.67 648.55,98.22 648.64,97.81 648.74,97.43 648.83,97.07 648.92,96.74 649.02,96.45 649.11,96.17 649.21,95.93 649.3,95.71 649.39,95.51 649.49,95.35 649.58,95.2 649.68,95.08 649.77,94.99 649.86,94.92 649.96,94.87 650.05,94.84 650.15,94.84 650.24,94.87 650.34,94.91 650.43,94.99 650.52,95.08 650.62,95.2 650.71,95.34 650.81,95.51 650.9,95.7 650.99,95.92 651.09,96.16 651.18,96.42 651.28,96.71 651.37,97.03 651.46,97.37 651.56,97.75 651.65,98.14 651.75,98.57 651.84,99.02 651.94,99.51 652.03,100.02 652.12,100.57 652.22,101.15 652.31,101.76 652.41,102.4 652.5,103.08 652.59,103.79 652.69,104.55 652.78,105.34 652.88,106.16 652.97,107.03 653.06,107.94 653.16,108.89 653.25,109.88 653.35,110.92 653.44,112 653.54,113.12 653.63,114.28 653.72,115.47 653.82,116.7 653.91,117.95 654.01,119.22 654.1,120.49 654.19,121.75 654.29,122.96 654.38,124.11 654.48,125.16 654.57,126.07 654.66,126.8 654.76,127.31 654.85,127.58 654.95,127.59 655.04,127.45 655.14,127.04 655.23,126.41 655.32,125.57 655.42,124.58 655.51,123.46 655.61,122.27 655.7,121.02 655.79,119.75 655.89,118.47 655.98,117.2 656.08,115.96 656.17,114.74 656.26,113.57 656.36,112.43 656.45,111.33 656.55,110.27 656.64,109.26 656.74,108.29 656.83,107.37 656.92,106.48 657.02,105.64 657.11,104.83 657.21,104.07 657.3,103.34 657.39,102.65 657.49,101.99 657.58,101.37 657.68,100.78 657.77,100.22 657.86,99.7 657.96,99.2 658.05,98.74 658.15,98.3 658.24,97.89 658.34,97.51 658.43,97.16 658.52,96.84 658.62,96.54 658.71,96.26 658.81,96.01 658.9,95.79 658.99,95.59 659.09,95.41 659.18,95.26 659.28,95.13 659.37,95.03 659.46,94.95 659.56,94.89 659.65,94.85 659.75,94.84 659.84,94.85 659.94,94.89 660.03,94.95 660.12,95.03 660.22,95.13 660.31,95.26 660.41,95.41" fill="none" stroke="#cc322c" stroke-width="1.4" stroke-linejoin="round" stroke-linecap="butt"/></g>
<rect x="411.4" y="3.2" width="258.3" height="171.95" fill="none" stroke="#222" stroke-width="1.5"/>
<line x1="420.4" y1="175.15" x2="420.4" y2="170.15" stroke="#222" stroke-width="1.4"/>
<text x="420.4" y="193.25" text-anchor="middle" class="tk">0</text>
<line x1="467.46" y1="175.15" x2="467.46" y2="170.15" stroke="#222" stroke-width="1.4"/>
<text x="467.46" y="193.25" text-anchor="middle" class="tk">50</text>
<line x1="514.52" y1="175.15" x2="514.52" y2="170.15" stroke="#222" stroke-width="1.4"/>
<text x="514.52" y="193.25" text-anchor="middle" class="tk">100</text>
<line x1="561.58" y1="175.15" x2="561.58" y2="170.15" stroke="#222" stroke-width="1.4"/>
<text x="561.58" y="193.25" text-anchor="middle" class="tk">150</text>
<line x1="608.64" y1="175.15" x2="608.64" y2="170.15" stroke="#222" stroke-width="1.4"/>
<text x="608.64" y="193.25" text-anchor="middle" class="tk">200</text>
<line x1="655.7" y1="175.15" x2="655.7" y2="170.15" stroke="#222" stroke-width="1.4"/>
<text x="655.7" y="193.25" text-anchor="middle" class="tk">250</text>
<text x="405.8" y="23.4" text-anchor="end" class="tk">0</text>
<line x1="411.4" y1="48.8" x2="416.4" y2="48.8" stroke="#222" stroke-width="1.4"/>
<text x="405.8" y="54.3" text-anchor="end" class="tk">-10</text>
<line x1="411.4" y1="79.7" x2="416.4" y2="79.7" stroke="#222" stroke-width="1.4"/>
<text x="405.8" y="85.2" text-anchor="end" class="tk">-20</text>
<line x1="411.4" y1="110.6" x2="416.4" y2="110.6" stroke="#222" stroke-width="1.4"/>
<text x="405.8" y="116.1" text-anchor="end" class="tk">-30</text>
<line x1="411.4" y1="141.5" x2="416.4" y2="141.5" stroke="#222" stroke-width="1.4"/>
<text x="405.8" y="147" text-anchor="end" class="tk">-40</text>
<line x1="411.4" y1="172.4" x2="416.4" y2="172.4" stroke="#222" stroke-width="1.4"/>
<text x="405.8" y="177.9" text-anchor="end" class="tk">-50</text>
<line x1="413.6" y1="17.3" x2="451.8" y2="17.3" stroke="#cc322c" stroke-width="1.5"/>
<text x="456.6" y="23.2" class="lg">α = 0.9</text>
<text x="541.45" y="219.85" text-anchor="middle" class="xl">l</text>
<text transform="translate(362.6,126.7) rotate(-90)" class="yl">|C<tspan class="sub" dy="5.6">l, 128</tspan><tspan dy="-5.6">| (dB)</tspan></text>
<clipPath id="clip2"><rect x="64.55" y="250.55" width="257.9" height="171.75"/></clipPath>
<g clip-path="url(#clip2)"><polyline points="73.6,335.49 73.7,335.44 73.8,335.47 73.9,335.58 74,335.77 74.1,336.05 74.2,336.4 74.3,336.84 74.4,337.35 74.5,337.95 74.6,338.62 74.7,339.37 74.8,340.19 74.9,341.08 75,342.04 75.1,343.04 75.2,344.07 75.3,345.12 75.4,346.15 75.5,347.14 75.6,348.04 75.7,348.81 75.8,349.4 75.9,349.78 76,349.91 76.1,349.78 76.2,349.4 76.3,348.79 76.4,347.99 76.5,347.04 76.6,345.99 76.7,344.88 76.8,343.74 76.9,342.61 77,341.51 77.1,340.45 77.2,339.44 77.3,338.51 77.4,337.65 77.5,336.86 77.6,336.16 77.7,335.53 77.8,334.99 77.9,334.53 78,334.16 78.1,333.87 78.2,333.67 78.3,333.55 78.4,333.52 78.5,333.57 78.6,333.74 78.7,334.01 78.8,334.36 78.9,334.79 79,335.31 79.1,335.92 79.2,336.61 79.3,337.39 79.4,338.25 79.5,339.19 79.6,340.21 79.7,341.29 79.8,342.42 79.9,343.59 80,344.77 80.1,345.93 80.2,347.04 80.3,348.04 80.4,348.89 80.5,349.53 80.6,349.92 80.7,350.02 80.8,349.83 80.9,349.36 81,348.66 81.1,347.75 81.2,346.71 81.3,345.58 81.4,344.41 81.5,343.23 81.6,342.07 81.7,340.95 81.8,339.89 81.9,338.9 82,337.98 82.1,337.14 82.2,336.39 82.3,335.72 82.4,335.14 82.5,334.65 82.6,334.24 82.7,333.92 82.8,333.68 82.9,333.53 83,333.46 83.1,333.48 83.2,333.59 83.3,333.78 83.4,334.06 83.5,334.42 83.6,334.87 83.7,335.41 83.8,336.04 83.9,336.75 84,337.54 84.1,338.42 84.2,339.38 84.3,340.41 84.4,341.5 84.5,342.65 84.6,343.83 84.7,345.02 84.8,346.19 84.9,347.29 85,348.29 85.1,349.12 85.2,349.73 85.3,350.07 85.4,350.13 85.5,349.89 85.6,349.37 85.7,348.62 85.8,347.68 85.9,346.62 86,345.46 86.1,344.28 86.2,343.09 86.3,341.93 86.4,340.81 86.5,339.75 86.6,338.77 86.7,337.86 86.8,337.03 86.9,336.29 87,335.63 87.1,335.06 87.2,334.58 87.3,334.18 87.4,333.87 87.5,333.65 87.6,333.51 87.7,333.46 87.8,333.49 87.9,333.62 88,333.82 88.1,334.11 88.2,334.49 88.3,334.96 88.4,335.51 88.5,336.16 88.6,336.88 88.7,337.69 88.8,338.59 88.9,339.56 89,340.61 89.1,341.72 89.2,342.88 89.3,344.08 89.4,345.28 89.5,346.45 89.6,347.55 89.7,348.53 89.8,349.34 89.9,349.91 90,350.22 90.1,350.23 90.2,349.94 90.3,349.37 90.4,348.58 90.5,347.61 90.6,346.51 90.7,345.34 90.8,344.14 90.9,342.95 91,341.78 91.1,340.67 91.2,339.62 91.3,338.64 91.4,337.74 91.5,336.92 91.6,336.19 91.7,335.54 91.8,334.99 91.9,334.51 92,334.13 92.1,333.83 92.2,333.62 92.3,333.5 92.4,333.46 92.5,333.51 92.6,333.64 92.7,333.86 92.8,334.17 92.9,334.57 93,335.05 93.1,335.62 93.2,336.28 93.3,337.02 93.4,337.85 93.5,338.76 93.6,339.75 93.7,340.82 93.8,341.95 93.9,343.12 94,344.33 94.1,345.54 94.2,346.71 94.3,347.8 94.4,348.77 94.5,349.55 94.6,350.09 94.7,350.36 94.8,350.32 94.9,349.98 95,349.37 95.1,348.53 95.2,347.53 95.3,346.4 95.4,345.22 95.5,344.01 95.6,342.81 95.7,341.64 95.8,340.53 95.9,339.48 96,338.51 96.1,337.62 96.2,336.81 96.3,336.09 96.4,335.46 96.5,334.91 96.6,334.45 96.7,334.08 96.8,333.79 96.9,333.6 97,333.49 97.1,333.46 97.2,333.52 97.3,333.67 97.4,333.91 97.5,334.23 97.6,334.64 97.7,335.14 97.8,335.73 97.9,336.4 98,337.16 98.1,338.01 98.2,338.94 98.3,339.95 98.4,341.03 98.5,342.17 98.6,343.36 98.7,344.58 98.8,345.8 98.9,346.97 99,348.06 99.1,349.01 99.2,349.76 99.3,350.27 99.4,350.49 99.5,350.4 99.6,350.01 99.7,349.35 99.8,348.48 99.9,347.44 100,346.29 100.1,345.08 100.2,343.86 100.3,342.64 100.4,341.47 100.5,340.35 100.6,339.3 100.7,338.32 100.8,337.43 100.9,336.62 101,335.89 101.1,335.26 101.2,334.71 101.3,334.25 101.4,333.88 101.5,333.6 101.6,333.4 101.7,333.3 101.8,333.28 101.9,333.34 102,333.5 102.1,333.74 102.2,334.07 102.3,334.49 102.4,334.99 102.5,335.59 102.6,336.28 102.7,337.06 102.8,337.92 102.9,338.87 103,339.91 103.1,341.02 103.2,342.19 103.3,343.41 103.4,344.66 103.5,345.91 103.6,347.11 103.7,348.23 103.8,349.19 103.9,349.95 104,350.43 104.1,350.61 104.2,350.46 104.3,350 104.4,349.27 104.5,348.31 104.6,347.19 104.7,345.97 104.8,344.71 104.9,343.43 105,342.18 105.1,340.97 105.2,339.83 105.3,338.76 105.4,337.77 105.5,336.87 105.6,336.06 105.7,335.34 105.8,334.7 105.9,334.16 106,333.71 106.1,333.34 106.2,333.07 106.3,332.89 106.4,332.79 106.5,332.78 106.6,332.86 106.7,333.04 106.8,333.3 106.9,333.65 107,334.09 107.1,334.62 107.2,335.24 107.3,335.96 107.4,336.77 107.5,337.67 107.6,338.66 107.7,339.73 107.8,340.89 107.9,342.11 108,343.38 108.1,344.69 108.2,346 108.3,347.26 108.4,348.42 108.5,349.43 108.6,350.2 108.7,350.69 108.8,350.84 108.9,350.63 109,350.1 109.1,349.28 109.2,348.24 109.3,347.04 109.4,345.74 109.5,344.41 109.6,343.08 109.7,341.78 109.8,340.53 109.9,339.36 110,338.27 110.1,337.26 110.2,336.35 110.3,335.52 110.4,334.79 110.5,334.16 110.6,333.62 110.7,333.17 110.8,332.81 110.9,332.54 111,332.37 111.1,332.29 111.2,332.29 111.3,332.39 111.4,332.58 111.5,332.87 111.6,333.24 111.7,333.72 111.8,334.29 111.9,334.95 112,335.72 112.1,336.58 112.2,337.54 112.3,338.59 112.4,339.74 112.5,340.97 112.6,342.29 112.7,343.66 112.8,345.07 112.9,346.48 113,347.85 113.1,349.11 113.2,350.18 113.3,351 113.4,351.48 113.5,351.58 113.6,351.29 113.7,350.64 113.8,349.69 113.9,348.51 114,347.18 114.1,345.77 114.2,344.34 114.3,342.92 114.4,341.56 114.5,340.26 114.6,339.05 114.7,337.92 114.8,336.89 114.9,335.96 115,335.13 115.1,334.4 115.2,333.76 115.3,333.22 115.4,332.78 115.5,332.43 115.6,332.17 115.7,332.01 115.8,331.95 115.9,331.97 116,332.1 116.1,332.31 116.2,332.62 116.3,333.02 116.4,333.52 116.5,334.11 116.6,334.81 116.7,335.61 116.8,336.51 116.9,337.52 117,338.63 117.1,339.84 117.2,341.15 117.3,342.55 117.4,344.02 117.5,345.53 117.6,347.06 117.7,348.54 117.8,349.9 117.9,351.06 118,351.93 118.1,352.41 118.2,352.45 118.3,352.06 118.4,351.26 118.5,350.14 118.6,348.78 118.7,347.28 118.8,345.73 118.9,344.17 119,342.65 119.1,341.2 119.2,339.84 119.3,338.57 119.4,337.4 119.5,336.34 119.6,335.38 119.7,334.53 119.8,333.78 119.9,333.13 120,332.58 120.1,332.14 120.2,331.79 120.3,331.53 120.4,331.38 120.5,331.32 120.6,331.35 120.7,331.49 120.8,331.72 120.9,332.04 121,332.47 121.1,333 121.2,333.63 121.3,334.36 121.4,335.2 121.5,336.15 121.6,337.2 121.7,338.37 121.8,339.64 121.9,341.02 122,342.48 122.1,344.03 122.2,345.62 122.3,347.22 122.4,348.78 122.5,350.2 122.6,351.39 122.7,352.25 122.8,352.68 122.9,352.64 123,352.12 123.1,351.18 123.2,349.93 123.3,348.46 123.4,346.87 123.5,345.23 123.6,343.62 123.7,342.05 123.8,340.57 123.9,339.18 124,337.9 124.1,336.72 124.2,335.65 124.3,334.69 124.4,333.84 124.5,333.09 124.6,332.45 124.7,331.91 124.8,331.48 124.9,331.14 125,330.9 125.1,330.76 125.2,330.72 125.3,330.77 125.4,330.92 125.5,331.17 125.6,331.52 125.7,331.97 125.8,332.52 125.9,333.18 126,333.94 126.1,334.81 126.2,335.8 126.3,336.9 126.4,338.11 126.5,339.43 126.6,340.86 126.7,342.39 126.8,344 126.9,345.66 127,347.34 127.1,348.96 127.2,350.43 127.3,351.65 127.4,352.51 127.5,352.89 127.6,352.76 127.7,352.12 127.8,351.06 127.9,349.68 128,348.1 128.1,346.42 128.2,344.72 128.3,343.05 128.4,341.44 128.5,339.93 128.6,338.52 128.7,337.22 128.8,336.04 128.9,334.96 129,334 129.1,333.16 129.2,332.42 129.3,331.78 129.4,331.25 129.5,330.82 129.6,330.5 129.7,330.27 129.8,330.14 129.9,330.12 130,330.19 130.1,330.36 130.2,330.62 130.3,331 130.4,331.48 130.5,332.06 130.6,332.75 130.7,333.55 130.8,334.47 130.9,335.49 131,336.64 131.1,337.9 131.2,339.27 131.3,340.76 131.4,342.35 131.5,344.03 131.6,345.76 131.7,347.5 131.8,349.18 131.9,350.7 132,351.93 132.1,352.76 132.2,353.09 132.3,352.86 132.4,352.11 132.5,350.93 132.6,349.44 132.7,347.77 132.8,346.03 132.9,344.27 133,342.57 133.1,340.94 133.2,339.42 133.3,338 133.4,336.71 133.5,335.53 133.6,334.46 133.7,333.51 133.8,332.68 133.9,331.95 134,331.34 134.1,330.82 134.2,330.42 134.3,330.11 134.4,329.9 134.5,329.8 134.6,329.79 134.7,329.88 134.8,330.08 134.9,330.36 135,330.74 135.1,331.23 135.2,331.82 135.3,332.53 135.4,333.34 135.5,334.27 135.6,335.32 135.7,336.49 135.8,337.78 135.9,339.19 136,340.72 136.1,342.36 136.2,344.09 136.3,345.88 136.4,347.68 136.5,349.41 136.6,350.97 136.7,352.21 136.8,353.02 136.9,353.27 137,352.93 137.1,352.05 137.2,350.73 137.3,349.11 137.4,347.33 137.5,345.49 137.6,343.66 137.7,341.9 137.8,340.23 137.9,338.67 138,337.22 138.1,335.9 138.2,334.7 138.3,333.63 138.4,332.67 138.5,331.82 138.6,331.09 138.7,330.47 138.8,329.95 138.9,329.54 139,329.23 139.1,329.03 139.2,328.92 139.3,328.92 139.4,329.02 139.5,329.22 139.6,329.52 139.7,329.93 139.8,330.45 139.9,331.08 140,331.83 140.1,332.68 140.2,333.66 140.3,334.76 140.4,335.98 140.5,337.33 140.6,338.81 140.7,340.42 140.8,342.14 140.9,343.96 141,345.85 141.1,347.75 141.2,349.57 141.3,351.2 141.4,352.48 141.5,353.27 141.6,353.44 141.7,352.97 141.8,351.93 141.9,350.45 142,348.69 142.1,346.8 142.2,344.87 142.3,342.97 142.4,341.16 142.5,339.46 142.6,337.88 142.7,336.43 142.8,335.1 142.9,333.91 143,332.84 143.1,331.89 143.2,331.05 143.3,330.33 143.4,329.73 143.5,329.23 143.6,328.83 143.7,328.55 143.8,328.36 143.9,328.28 144,328.3 144.1,328.42 144.2,328.64 144.3,328.97 144.4,329.39 144.5,329.91 144.6,330.55 144.7,331.3 144.8,332.17 144.9,333.16 145,334.28 145.1,335.53 145.2,336.92 145.3,338.45 145.4,340.11 145.5,341.9 145.6,343.8 145.7,345.78 145.8,347.78 145.9,349.7 146,351.41 146.1,352.74 146.2,353.51 146.3,353.58 146.4,352.95 146.5,351.71 146.6,350.02 146.7,348.08 146.8,346.02 146.9,343.95 147,341.95 147.1,340.05 147.2,338.28 147.3,336.64 147.4,335.14 147.5,333.77 147.6,332.54 147.7,331.44 147.8,330.47 147.9,329.61 148,328.87 148.1,328.25 148.2,327.74 148.3,327.33 148.4,327.03 148.5,326.84 148.6,326.75 148.7,326.77 148.8,326.89 148.9,327.13 149,327.48 149.1,327.94 149.2,328.51 149.3,329.19 149.4,330 149.5,330.92 149.6,331.98 149.7,333.17 149.8,334.51 149.9,335.98 150,337.61 150.1,339.38 150.2,341.3 150.3,343.35 150.4,345.49 150.5,347.65 150.6,349.74 150.7,351.59 150.8,352.99 150.9,353.74 151,353.69 151.1,352.86 151.2,351.38 151.3,349.47 151.4,347.34 151.5,345.13 151.6,342.95 151.7,340.88 151.8,338.93 151.9,337.12 152,335.46 152.1,333.96 152.2,332.59 152.3,331.37 152.4,330.28 152.5,329.32 152.6,328.49 152.7,327.77 152.8,327.17 152.9,326.69 153,326.31 153.1,326.04 153.2,325.88 153.3,325.82 153.4,325.87 153.5,326.02 153.6,326.28 153.7,326.65 153.8,327.12 153.9,327.71 154,328.42 154.1,329.25 154.2,330.21 154.3,331.3 154.4,332.53 154.5,333.91 154.6,335.44 154.7,337.13 154.8,338.98 154.9,340.99 155,343.14 155.1,345.39 155.2,347.68 155.3,349.89 155.4,351.84 155.5,353.27 155.6,353.97 155.7,353.77 155.8,352.72 155.9,351.01 156,348.89 156.1,346.58 156.2,344.24 156.3,341.97 156.4,339.81 156.5,337.81 156.6,335.97 156.7,334.28 156.8,332.76 156.9,331.38 157,330.15 157.1,329.06 157.2,328.1 157.3,327.26 157.4,326.55 157.5,325.95 157.6,325.47 157.7,325.1 157.8,324.84 157.9,324.68 158,324.64 158.1,324.7 158.2,324.86 158.3,325.14 158.4,325.53 158.5,326.02 158.6,326.62 158.7,327.35 158.8,328.2 158.9,329.18 159,330.31 159.1,331.58 159.2,333 159.3,334.59 159.4,336.36 159.5,338.29 159.6,340.41 159.7,342.69 159.8,345.09 159.9,347.56 160,349.94 160.1,352.03 160.2,353.54 160.3,354.18 160.4,353.79 160.5,352.45 160.6,350.43 160.7,348.03 160.8,345.49 160.9,342.97 161,340.57 161.1,338.31 161.2,336.24 161.3,334.33 161.4,332.61 161.5,331.05 161.6,329.64 161.7,328.39 161.8,327.28 161.9,326.31 162,325.46 162.1,324.74 162.2,324.13 162.3,323.65 162.4,323.27 162.5,323.01 162.6,322.86 162.7,322.81 162.8,322.88 162.9,323.05 163,323.34 163.1,323.73 163.2,324.23 163.3,324.86 163.4,325.62 163.5,326.5 163.6,327.53 163.7,328.7 163.8,330.02 163.9,331.52 164,333.19 164.1,335.05 164.2,337.11 164.3,339.37 164.4,341.83 164.5,344.45 164.6,347.17 164.7,349.83 164.8,352.16 164.9,353.8 165,354.37 165.1,353.7 165.2,351.97 165.3,349.54 165.4,346.78 165.5,343.96 165.6,341.24 165.7,338.68 165.8,336.31 165.9,334.15 166,332.19 166.1,330.42 166.2,328.83 166.3,327.4 166.4,326.13 166.5,325.01 166.6,324.02 166.7,323.17 166.8,322.45 166.9,321.84 167,321.36 167.1,320.99 167.2,320.73 167.3,320.58 167.4,320.55 167.5,320.62 167.6,320.82 167.7,321.12 167.8,321.54 167.9,322.08 168,322.75 168.1,323.55 168.2,324.48 168.3,325.56 168.4,326.79 168.5,328.18 168.6,329.76 168.7,331.53 168.8,333.5 168.9,335.7 169,338.13 169.1,340.8 169.2,343.68 169.3,346.69 169.4,349.67 169.5,352.29 169.6,354.07 169.7,354.52 169.8,353.49 169.9,351.28 170,348.4 170.1,345.29 170.2,342.21 170.3,339.31 170.4,336.63 170.5,334.19 170.6,331.97 170.7,329.98 170.8,328.18 170.9,326.58 171,325.15 171.1,323.88 171.2,322.76 171.3,321.79 171.4,320.95 171.5,320.24 171.6,319.65 171.7,319.18 171.8,318.83 171.9,318.59 172,318.46 172.1,318.45 172.2,318.55 172.3,318.75 172.4,319.07 172.5,319.51 172.6,320.08 172.7,320.77 172.8,321.59 172.9,322.56 173,323.67 173.1,324.95 173.2,326.4 173.3,328.04 173.4,329.89 173.5,331.97 173.6,334.29 173.7,336.88 173.8,339.74 173.9,342.87 174,346.2 174.1,349.52 174.2,352.45 174.3,354.35 174.4,354.6 174.5,353.1 174.6,350.34 174.7,346.98 174.8,343.52 174.9,340.21 175,337.14 175.1,334.35 175.2,331.84 175.3,329.57 175.4,327.54 175.5,325.73 175.6,324.11 175.7,322.67 175.8,321.39 175.9,320.27 176,319.3 176.1,318.46 176.2,317.75 176.3,317.16 176.4,316.7 176.5,316.36 176.6,316.13 176.7,316.01 176.8,316.01 176.9,316.12 177,316.31 177.1,316.61 177.2,317.04 177.3,317.59 177.4,318.28 177.5,319.1 177.6,320.07 177.7,321.19 177.8,322.49 177.9,323.97 178,325.66 178.1,327.56 178.2,329.72 178.3,332.16 178.4,334.92 178.5,338.01 178.6,341.44 178.7,345.17 178.8,349 178.9,352.42 179,354.55 179.1,354.5 179.2,352.25 179.3,348.68 179.4,344.67 179.5,340.75 179.6,337.11 179.7,333.82 179.8,330.87 179.9,328.23 180,325.88 180.1,323.77 180.2,321.9 180.3,320.22 180.4,318.74 180.5,317.42 180.6,316.26 180.7,315.25 180.8,314.38 180.9,313.64 181,313.03 181.1,312.54 181.2,312.17 181.3,311.91 181.4,311.78 181.5,311.75 181.6,311.85 181.7,312.01 181.8,312.3 181.9,312.71 182,313.25 182.1,313.92 182.2,314.74 182.3,315.71 182.4,316.85 182.5,318.17 182.6,319.68 182.7,321.42 182.8,323.41 182.9,325.68 183,328.27 183.1,331.24 183.2,334.65 183.3,338.55 183.4,342.93 183.5,347.65 183.6,352.07 183.7,354.74 183.8,354.09 183.9,350.46 184,345.57 184.1,340.63 184.2,336.09 184.3,332.06 184.4,328.5 184.5,325.36 184.6,322.59 184.7,320.12 184.8,317.93 184.9,315.98 185,314.25 185.1,312.71 185.2,311.34 185.3,310.14 185.4,309.09 185.5,308.18 185.6,307.4 185.7,306.75 185.8,306.23 185.9,305.82 186,305.54 186.1,305.37 186.2,305.32 186.3,305.39 186.4,305.58 186.5,305.9 186.6,306.48 186.7,307.19 186.8,308.04 186.9,309.04 187,310.2 187.1,311.53 187.2,313.05 187.3,314.77 187.4,316.73 187.5,318.96 187.6,321.5 187.7,324.39 187.8,327.72 187.9,331.55 188,335.98 188.1,341.07 188.2,346.68 188.3,352.03 188.4,354.96 188.5,353.19 188.6,347.89 188.7,341.86 188.8,336.3 188.9,331.42 189,327.18 189.1,323.47 189.2,320.2 189.3,317.28 189.4,314.65 189.5,312.28 189.6,310.12 189.7,308.14 189.8,306.32 189.9,304.65 190,303.09 190.1,301.65 190.2,300.31 190.3,299.06 190.4,297.89 190.5,296.8 190.6,295.78 190.7,294.83 190.8,293.94 190.9,293.1 191,292.32 191.1,291.59 191.2,290.91 191.3,290.27 191.4,289.68 191.5,289.13 191.6,288.62 191.7,288.15 191.8,287.72 191.9,287.32 192,286.96 192.1,286.63 192.2,286.33 192.3,286.07 193.3,265.7 194.3,287.32 194.4,287.72 194.5,288.15 194.6,288.62 194.7,289.13 194.8,289.68 194.9,290.27 195,290.91 195.1,291.59 195.2,292.32 195.3,293.1 195.4,293.94 195.5,294.83 195.6,295.78 195.7,296.8 195.8,297.89 195.9,299.06 196,300.31 196.1,301.65 196.2,303.09 196.3,304.65 196.4,306.32 196.5,308.14 196.6,310.12 196.7,312.28 196.8,314.65 196.9,317.28 197,320.2 197.1,323.47 197.2,327.18 197.3,331.42 197.4,336.3 197.5,341.86 197.6,347.89 197.7,353.19 197.8,354.96 197.9,352.07 198,346.79 198.1,341.22 198.2,336.17 198.3,331.76 198.4,327.94 198.5,324.63 198.6,321.74 198.7,319.21 198.8,316.99 198.9,315.04 199,313.32 199.1,311.81 199.2,310.48 199.3,309.33 199.4,308.34 199.5,307.49 199.6,306.94 199.7,306.52 199.8,306.22 199.9,306.05 200,306 200.1,306.07 200.2,306.26 200.3,306.56 200.4,306.98 200.5,307.52 200.6,308.19 200.7,308.98 200.8,309.91 200.9,310.98 201,312.2 201.1,313.58 201.2,315.14 201.3,316.89 201.4,318.85 201.5,321.04 201.6,323.51 201.7,326.29 201.8,329.42 201.9,332.95 202,336.94 202.1,341.39 202.2,346.19 202.3,350.87 202.4,354.28 202.5,354.89 202.6,352.41 202.7,348.24 202.8,343.72 202.9,339.47 203,335.68 203.1,332.34 203.2,329.43 203.3,326.88 203.4,324.65 203.5,322.7 203.6,320.99 203.7,319.51 203.8,318.22 203.9,317.11 204,316.16 204.1,315.36 204.2,314.71 204.3,314.19 204.4,313.8 204.5,313.47 204.6,313.26 204.7,313.16 204.8,313.18 204.9,313.32 205,313.57 205.1,313.94 205.2,314.43 205.3,315.03 205.4,315.77 205.5,316.63 205.6,317.64 205.7,318.79 205.8,320.1 205.9,321.57 206,323.23 206.1,325.09 206.2,327.17 206.3,329.5 206.4,332.1 206.5,335 206.6,338.22 206.7,341.76 206.8,345.54 206.9,349.36 207,352.72 207.1,354.8 207.2,354.85 207.3,352.88 207.4,349.67 207.5,346.03 207.6,342.43 207.7,339.09 207.8,336.07 207.9,333.36 208,330.95 208.1,328.82 208.2,326.93 208.3,325.26 208.4,323.79 208.5,322.5 208.6,321.38 208.7,320.41 208.8,319.6 208.9,318.91 209,318.36 209.1,317.93 209.2,317.63 209.3,317.43 209.4,317.35 209.5,317.39 209.6,317.53 209.7,317.79 209.8,318.17 209.9,318.66 210,319.27 210.1,320.01 210.2,320.87 210.3,321.87 210.4,323.01 210.5,324.31 210.6,325.76 210.7,327.39 210.8,329.21 210.9,331.24 211,333.48 211.1,335.97 211.2,338.7 211.3,341.67 211.4,344.85 211.5,348.11 211.6,351.21 211.7,353.71 211.8,355.04 211.9,354.82 212,353.15 212.1,350.53 212.2,347.49 212.3,344.41 212.4,341.48 212.5,338.76 212.6,336.3 212.7,334.07 212.8,332.08 212.9,330.31 213,328.73 213.1,327.34 213.2,326.12 213.3,325.05 213.4,324.13 213.5,323.35 213.6,322.7 213.7,322.18 213.8,321.77 213.9,321.49 214,321.32 214.1,321.25 214.2,321.29 214.3,321.44 214.4,321.7 214.5,322.08 214.6,322.57 214.7,323.17 214.8,323.9 214.9,324.75 215,325.74 215.1,326.86 215.2,328.13 215.3,329.55 215.4,331.13 215.5,332.89 215.6,334.83 215.7,336.97 215.8,339.3 215.9,341.83 216,344.52 216.1,347.31 216.2,350.05 216.3,352.51 216.4,354.33 216.5,355.17 216.6,354.81 216.7,353.38 216.8,351.2 216.9,348.66 217,346.02 217.1,343.44 217.2,341.01 217.3,338.77 217.4,336.72 217.5,334.87 217.6,333.21 217.7,331.72 217.8,330.41 217.9,329.24 218,328.23 218.1,327.35 218.2,326.6 218.3,325.98 218.4,325.48 218.5,325.1 218.6,324.83 218.7,324.67 218.8,324.59 218.9,324.62 219,324.75 219.1,325 219.2,325.35 219.3,325.82 219.4,326.4 219.5,327.09 219.6,327.91 219.7,328.86 219.8,329.94 219.9,331.15 220,332.52 220.1,334.03 220.2,335.71 220.3,337.56 220.4,339.57 220.5,341.75 220.6,344.08 220.7,346.52 220.8,348.98 220.9,351.32 221,353.32 221.1,354.71 221.2,355.23 221.3,354.79 221.4,353.48 221.5,351.56 221.6,349.3 221.7,346.93 221.8,344.58 221.9,342.33 222,340.23 222.1,338.3 222.2,336.54 222.3,334.94 222.4,333.51 222.5,332.23 222.6,331.09 222.7,330.09 222.8,329.23 222.9,328.49 223,327.87 223.1,327.37 223.2,326.98 223.3,326.7 223.4,326.54 223.5,326.49 223.6,326.55 223.7,326.71 223.8,326.98 223.9,327.35 224,327.84 224.1,328.44 224.2,329.15 224.3,329.98 224.4,330.94 224.5,332.02 224.6,333.24 224.7,334.59 224.8,336.09 224.9,337.74 225,339.54 225.1,341.48 225.2,343.56 225.3,345.75 225.4,347.99 225.5,350.2 225.6,352.23 225.7,353.89 225.8,354.96 225.9,355.27 226,354.77 226.1,353.57 226.2,351.85 226.3,349.84 226.4,347.72 226.5,345.59 226.6,343.55 226.7,341.62 226.8,339.84 226.9,338.2 227,336.72 227.1,335.37 227.2,334.18 227.3,333.11 227.4,332.18 227.5,331.37 227.6,330.68 227.7,330.11 227.8,329.65 227.9,329.31 228,329.06 228.1,328.93 228.2,328.88 228.3,328.93 228.4,329.09 228.5,329.35 228.6,329.71 228.7,330.19 228.8,330.77 228.9,331.46 229,332.27 229.1,333.2 229.2,334.25 229.3,335.43 229.4,336.73 229.5,338.17 229.6,339.75 229.7,341.46 229.8,343.29 229.9,345.23 230,347.24 230.1,349.27 230.2,351.22 230.3,352.96 230.4,354.32 230.5,355.14 230.6,355.29 230.7,354.76 230.8,353.64 230.9,352.07 231,350.25 231.1,348.3 231.2,346.35 231.3,344.44 231.4,342.64 231.5,340.95 231.6,339.39 231.7,337.97 231.8,336.69 231.9,335.53 232,334.5 232.1,333.6 232.2,332.81 232.3,332.14 232.4,331.58 232.5,331.13 232.6,330.79 232.7,330.55 232.8,330.41 232.9,330.38 233,330.46 233.1,330.64 233.2,330.92 233.3,331.3 233.4,331.79 233.5,332.39 233.6,333.1 233.7,333.91 233.8,334.84 233.9,335.89 234,337.06 234.1,338.35 234.2,339.76 234.3,341.3 234.4,342.95 234.5,344.71 234.6,346.54 234.7,348.42 234.8,350.27 234.9,352.01 235,353.51 235.1,354.64 235.2,355.27 235.3,355.3 235.4,354.76 235.5,353.7 235.6,352.28 235.7,350.62 235.8,348.86 235.9,347.07 236,345.32 236.1,343.65 236.2,342.09 236.3,340.64 236.4,339.31 236.5,338.11 236.6,337.03 236.7,336.06 236.8,335.22 236.9,334.48 237,333.86 237.1,333.35 237.2,332.94 237.3,332.63 237.4,332.42 237.5,332.31 237.6,332.29 237.7,332.38 237.8,332.56 237.9,332.84 238,333.23 238.1,333.71 238.2,334.3 238.3,334.99 238.4,335.79 238.5,336.7 238.6,337.72 238.7,338.85 238.8,340.1 238.9,341.46 239,342.92 239.1,344.48 239.2,346.13 239.3,347.83 239.4,349.54 239.5,351.19 239.6,352.71 239.7,353.99 239.8,354.9 239.9,355.36 240,355.31 240.1,354.76 240.2,353.79 240.3,352.49 240.4,350.98 240.5,349.37 240.6,347.72 240.7,346.11 240.8,344.56 240.9,343.1 241,341.73 241.1,340.48 241.2,339.34 241.3,338.31 241.4,337.39 241.5,336.59 241.6,335.89 241.7,335.29 241.8,334.8 241.9,334.41 242,334.12 242.1,333.93 242.2,333.84 242.3,333.85 242.4,333.96 242.5,334.16 242.6,334.46 242.7,334.85 242.8,335.35 242.9,335.94 243,336.64 243.1,337.43 243.2,338.33 243.3,339.34 243.4,340.45 243.5,341.66 243.6,342.97 243.7,344.37 243.8,345.85 243.9,347.39 244,348.96 244.1,350.51 244.2,351.99 244.3,353.31 244.4,354.38 244.5,355.11 244.6,355.44 244.7,355.32 244.8,354.79 244.9,353.89 245,352.72 245.1,351.37 245.2,349.92 245.3,348.44 245.4,346.97 245.5,345.55 245.6,344.21 245.7,342.96 245.8,341.8 245.9,340.74 246,339.79 246.1,338.94 246.2,338.19 246.3,337.55 246.4,337 246.5,336.55 246.6,336.2 246.7,335.95 246.8,335.76 246.9,335.67 247,335.68 247.1,335.78 247.2,335.97 247.3,336.25 247.4,336.63 247.5,337.1 247.6,337.67 247.7,338.33 247.8,339.1 247.9,339.96 248,340.91 248.1,341.97 248.2,343.12 248.3,344.35 248.4,345.67 248.5,347.05 248.6,348.47 248.7,349.91 248.8,351.31 248.9,352.62 249,353.76 249.1,354.67 249.2,355.26 249.3,355.49 249.4,355.33 249.5,354.8 249.6,353.95 249.7,352.85 249.8,351.59 249.9,350.24 250,348.84 250.1,347.46 250.2,346.12 250.3,344.84 250.4,343.64 250.5,342.53 250.6,341.5 250.7,340.58 250.8,339.75 250.9,339.02 251,338.39 251.1,337.85 251.2,337.41 251.3,337.06 251.4,336.81 251.5,336.64 251.6,336.58 251.7,336.61 251.8,336.72 251.9,336.93 252,337.24 252.1,337.63 252.2,338.11 252.3,338.69 252.4,339.36 252.5,340.13 252.6,340.98 252.7,341.93 252.8,342.97 252.9,344.1 253,345.31 253.1,346.58 253.2,347.9 253.3,349.26 253.4,350.6 253.5,351.9 253.6,353.09 253.7,354.11 253.8,354.9 253.9,355.39 254,355.53 254.1,355.33 254.2,354.8 254.3,353.99 254.4,352.97 254.5,351.8 254.6,350.54 254.7,349.24 254.8,347.96 254.9,346.7 255,345.51 255.1,344.39 255.2,343.34 255.3,342.39 255.4,341.52 255.5,340.75 255.6,340.07 255.7,339.48 255.8,338.99 255.9,338.58 256,338.27 256.1,338.05 256.2,337.91 256.3,337.87 256.4,337.92 256.5,338.05 256.6,338.27 256.7,338.58 256.8,338.98 256.9,339.47 257,340.04 257.1,340.71 257.2,341.46 257.3,342.3 257.4,343.22 257.5,344.23 257.6,345.31 257.7,346.45 257.8,347.66 257.9,348.89 258,350.14 258.1,351.37 258.2,352.53 258.3,353.58 258.4,354.46 258.5,355.11 258.6,355.49 258.7,355.57 258.8,355.35 258.9,354.84 259,354.09 259.1,353.16 259.2,352.1 259.3,350.95 259.4,349.78 259.5,348.6 259.6,347.45 259.7,346.35 259.8,345.32 259.9,344.36 260,343.47 260.1,342.67 260.2,341.96 260.3,341.33 260.4,340.78 260.5,340.33 260.6,339.96 260.7,339.68 260.8,339.48 260.9,339.37 261,339.33 261.1,339.38 261.2,339.52 261.3,339.73 261.4,340.03 261.5,340.42 261.6,340.89 261.7,341.45 261.8,342.08 261.9,342.8 262,343.6 262.1,344.48 262.2,345.44 262.3,346.45 262.4,347.53 262.5,348.64 262.6,349.79 262.7,350.92 262.8,352.03 262.9,353.07 263,353.98 263.1,354.73 263.2,355.28 263.3,355.57 263.4,355.6 263.5,355.36 263.6,354.87 263.7,354.17 263.8,353.31 263.9,352.32 264,351.27 264.1,350.17 264.2,349.08 264.3,348 264.4,346.97 264.5,346 264.6,345.09 264.7,344.25 264.8,343.49 264.9,342.81 265,342.21 265.1,341.69 265.2,341.25 265.3,340.9 265.4,340.64 265.5,340.47 265.6,340.37 265.7,340.36 265.8,340.44 265.9,340.59 266,340.82 266.1,341.14 266.2,341.54 266.3,342.01 266.4,342.57 266.5,343.2 266.6,343.91 266.7,344.7 266.8,345.55 266.9,346.47 267,347.44 267.1,348.46 267.2,349.51 267.3,350.56 267.4,351.6 267.5,352.6 267.6,353.52 267.7,354.35 267.8,355.03 267.9,355.51 268,355.78 268.1,355.8 268.2,355.59 268.3,355.16 268.4,354.54 268.5,353.77 268.6,352.88 268.7,351.92 268.8,350.92 268.9,349.92 269,348.93 269.1,347.98 269.2,347.07 269.3,346.23 269.4,345.45 269.5,344.74 269.6,344.1 269.7,343.54 269.8,343.07 269.9,342.67 270,342.35 270.1,342.11 270.2,341.94 270.3,341.86 270.4,341.85 270.5,341.93 270.6,342.09 270.7,342.33 270.8,342.65 270.9,343.05 271,343.54 271.1,344.1 271.2,344.75 271.3,345.47 271.4,346.27 271.5,347.15 271.6,348.09 271.7,349.09 271.8,350.15 271.9,351.24 272,352.34 272.1,353.44 272.2,354.5 272.3,355.48 272.4,356.34 272.5,357.04 272.6,357.53 272.7,357.78 272.8,357.78 272.9,357.52 273,357.02 273.1,356.33 273.2,355.48 273.3,354.53 273.4,353.5 273.5,352.44 273.6,351.38 273.7,350.34 273.8,349.34 273.9,348.4 274,347.52 274.1,346.71 274.2,345.98 274.3,345.33 274.4,344.75 274.5,344.26 274.6,343.85 274.7,343.53 274.8,343.29 274.9,343.13 275,343.05 275.1,343.05 275.2,343.14 275.3,343.31 275.4,343.57 275.5,343.91 275.6,344.33 275.7,344.85 275.8,345.45 275.9,346.13 276,346.9 276.1,347.75 276.2,348.69 276.3,349.7 276.4,350.78 276.5,351.92 276.6,353.1 276.7,354.31 276.8,355.51 276.9,356.68 277,357.75 277.1,358.69 277.2,359.44 277.3,359.95 277.4,360.18 277.5,360.11 277.6,359.76 277.7,359.14 277.8,358.32 277.9,357.33 278,356.23 278.1,355.08 278.2,353.9 278.3,352.74 278.4,351.62 278.5,350.55 278.6,349.54 278.7,348.61 278.8,347.76 278.9,346.99 279,346.31 279.1,345.72 279.2,345.21 279.3,344.79 279.4,344.46 279.5,344.21 279.6,344.06 279.7,344 279.8,344.02 279.9,344.13 280,344.33 280.1,344.62 280.2,344.99 280.3,345.46 280.4,346.01 280.5,346.65 280.6,347.39 280.7,348.21 280.8,349.13 280.9,350.13 281,351.21 281.1,352.37 281.2,353.59 281.3,354.86 281.4,356.17 281.5,357.46 281.6,358.73 281.7,359.9 281.8,360.93 281.9,361.74 282,362.27 282.1,362.49 282.2,362.37 282.3,361.93 282.4,361.21 282.5,360.27 282.6,359.16 282.7,357.95 282.8,356.69 282.9,355.43 283,354.2 283.1,353.01 283.2,351.89 283.3,350.84 283.4,349.88 283.5,349.01 283.6,348.22 283.7,347.53 283.8,346.93 283.9,346.42 284,346.01 284.1,345.68 284.2,345.43 284.3,345.28 284.4,345.21 284.5,345.23 284.6,345.35 284.7,345.56 284.8,345.85 284.9,346.25 285,346.73 285.1,347.32 285.2,348 285.3,348.78 285.4,349.66 285.5,350.63 285.6,351.71 285.7,352.88 285.8,354.15 285.9,355.5 286,356.91 286.1,358.38 286.2,359.85 286.3,361.29 286.4,362.65 286.5,363.83 286.6,364.76 286.7,365.35 286.8,365.54 286.9,365.33 287,364.72 287.1,363.79 287.2,362.6 287.3,361.25 287.4,359.82 287.5,358.36 287.6,356.91 287.7,355.52 287.8,354.2 287.9,352.96 288,351.82 288.1,350.77 288.2,349.83 288.3,348.99 288.4,348.25 288.5,347.61 288.6,347.07 288.7,346.62 288.8,346.28 288.9,346.04 289,345.9 289.1,345.86 289.2,345.92 289.3,346.07 289.4,346.31 289.5,346.66 289.6,347.1 289.7,347.65 289.8,348.3 289.9,349.05 290,349.92 290.1,350.89 290.2,351.97 290.3,353.17 290.4,354.48 290.5,355.9 290.6,357.42 290.7,359.04 290.8,360.72 290.9,362.43 291,364.12 291.1,365.71 291.2,367.1 291.3,368.18 291.4,368.83 291.5,368.97 291.6,368.6 291.7,367.76 291.8,366.55 291.9,365.08 292,363.48 292.1,361.81 292.2,360.16 292.3,358.56 292.4,357.04 292.5,355.62 292.6,354.31 292.7,353.11 292.8,352.03 292.9,351.05 293,350.19 293.1,349.45 293.2,348.8 293.3,348.27 293.4,347.84 293.5,347.49 293.6,347.25 293.7,347.11 293.8,347.06 293.9,347.12 294,347.28 294.1,347.54 294.2,347.9 294.3,348.36 294.4,348.93 294.5,349.61 294.6,350.41 294.7,351.32 294.8,352.34 294.9,353.5 295,354.78 295.1,356.18 295.2,357.72 295.3,359.38 295.4,361.16 295.5,363.03 295.6,364.96 295.7,366.9 295.8,368.75 295.9,370.38 296,371.63 296.1,372.35 296.2,372.43 296.3,371.86 296.4,370.73 296.5,369.19 296.6,367.39 296.7,365.48 296.8,363.55 296.9,361.67 297,359.89 297.1,358.22 297.2,356.67 297.3,355.26 297.4,353.97 297.5,352.82 297.6,351.79 297.7,350.88 297.8,350.1 297.9,349.42 298,348.86 298.1,348.41 298.2,348.07 298.3,347.83 298.4,347.7 298.5,347.67 298.6,347.74 298.7,347.93 298.8,348.21 298.9,348.61 299,349.12 299.1,349.73 299.2,350.47 299.3,351.33 299.4,352.32 299.5,353.44 299.6,354.69 299.7,356.1 299.8,357.66 299.9,359.37 300,361.25 300.1,363.29 300.2,365.47 300.3,367.78 300.4,370.15 300.5,372.46 300.6,374.53 300.7,376.13 300.8,376.99 300.9,376.95 301,376.02 301.1,374.38 301.2,372.28 301.3,369.98 301.4,367.63 301.5,365.35 301.6,363.19 301.7,361.19 301.8,359.34 301.9,357.66 302,356.14 302.1,354.78 302.2,353.56 302.3,352.49 302.4,351.54 302.5,350.73 302.6,350.04 302.7,349.47 302.8,349.01 302.9,348.66 303,348.42 303.1,348.29 303.2,348.28 303.3,348.37 303.4,348.57 303.5,348.88 303.6,349.3 303.7,349.85 303.8,350.51 303.9,351.31 304,352.23 304.1,353.29 304.2,354.51 304.3,355.88 304.4,357.42 304.5,359.15 304.6,361.08 304.7,363.22 304.8,365.59 304.9,368.19 305,371 305.1,374.04 305.2,377.15 305.3,380.08 305.4,382.43 305.5,383.64 305.6,383.35 305.7,381.67 305.8,379.05 305.9,376.02 306,372.92 306.1,369.94 306.2,367.18 306.3,364.66 306.4,362.37 306.5,360.32 306.6,358.47 306.7,356.83 306.8,355.36 306.9,354.07 307,352.93 307.1,351.94 307.2,351.09 307.3,350.38 307.4,349.79 307.5,349.33 307.6,348.98 307.7,348.76 307.8,348.65 307.9,348.65 308,348.77 308.1,349 308.2,349.36 308.3,349.83 308.4,350.43 308.5,351.16 308.6,352.02 308.7,353.04 308.8,354.21 308.9,355.54 309,357.07 309.1,358.8 309.2,360.75 309.3,362.97 309.4,365.48 309.5,368.31 309.6,371.52 309.7,375.16 309.8,379.26 309.9,383.76 310,388.38 310.1,392.26 310.2,393.92 310.3,392.42 310.4,388.63 310.5,384.05 310.6,379.55 310.7,375.45 310.8,371.81 310.9,368.61 311,365.78 311.1,363.3 311.2,361.1 311.3,359.16 311.4,357.45 311.5,355.94 311.6,354.62 311.7,353.46 311.8,352.47 311.9,351.62 312,350.9 312.1,350.32 312.2,349.86 312.3,349.53 312.4,349.31 312.5,349.21 312.6,349.23 312.7,349.36 312.8,349.61 312.9,349.99 313,350.48 313.1,351.1 313.2,351.86 313.3,352.76 313.4,353.81 313.5,355.01 313.6,356.4" fill="none" stroke="#33943a" stroke-width="1.4" stroke-linejoin="round" stroke-linecap="butt"/></g>
<rect x="64.55" y="250.55" width="257.9" height="171.75" fill="none" stroke="#222" stroke-width="1.5"/>
<line x1="73.6" y1="422.3" x2="73.6" y2="417.3" stroke="#222" stroke-width="1.4"/>
<text x="73.6" y="440.4" text-anchor="middle" class="tk">0</text>
<line x1="120.62" y1="422.3" x2="120.62" y2="417.3" stroke="#222" stroke-width="1.4"/>
<text x="120.62" y="440.4" text-anchor="middle" class="tk">50</text>
<line x1="167.64" y1="422.3" x2="167.64" y2="417.3" stroke="#222" stroke-width="1.4"/>
<text x="167.64" y="440.4" text-anchor="middle" class="tk">100</text>
<line x1="214.66" y1="422.3" x2="214.66" y2="417.3" stroke="#222" stroke-width="1.4"/>
<text x="214.66" y="440.4" text-anchor="middle" class="tk">150</text>
<line x1="261.68" y1="422.3" x2="261.68" y2="417.3" stroke="#222" stroke-width="1.4"/>
<text x="261.68" y="440.4" text-anchor="middle" class="tk">200</text>
<line x1="308.7" y1="422.3" x2="308.7" y2="417.3" stroke="#222" stroke-width="1.4"/>
<text x="308.7" y="440.4" text-anchor="middle" class="tk">250</text>
<text x="58.95" y="271.2" text-anchor="end" class="tk">0</text>
<line x1="64.55" y1="296.5" x2="69.55" y2="296.5" stroke="#222" stroke-width="1.4"/>
<text x="58.95" y="302" text-anchor="end" class="tk">-10</text>
<line x1="64.55" y1="327.3" x2="69.55" y2="327.3" stroke="#222" stroke-width="1.4"/>
<text x="58.95" y="332.8" text-anchor="end" class="tk">-20</text>
<line x1="64.55" y1="358.1" x2="69.55" y2="358.1" stroke="#222" stroke-width="1.4"/>
<text x="58.95" y="363.6" text-anchor="end" class="tk">-30</text>
<line x1="64.55" y1="388.9" x2="69.55" y2="388.9" stroke="#222" stroke-width="1.4"/>
<text x="58.95" y="394.4" text-anchor="end" class="tk">-40</text>
<line x1="64.55" y1="419.7" x2="69.55" y2="419.7" stroke="#222" stroke-width="1.4"/>
<text x="58.95" y="425.2" text-anchor="end" class="tk">-50</text>
<line x1="67.3" y1="264.9" x2="102.9" y2="264.9" stroke="#33943a" stroke-width="1.5"/>
<text x="107.5" y="270.8" class="lg">α = 0.8</text>
<text x="194.4" y="467.4" text-anchor="middle" class="xl">l</text>
<text transform="translate(16.6,374.3) rotate(-90)" class="yl">|C<tspan class="sub" dy="5.6">l, 128</tspan><tspan dy="-5.6">| (dB)</tspan></text>
<clipPath id="clip3"><rect x="412.65" y="250.55" width="257.6" height="171.7"/></clipPath>
<g clip-path="url(#clip3)"><polyline points="421.9,353.39 422.84,360.27 423.78,357.01 424.71,347.55 425.65,351.02 426.59,376.27 427.53,347.94 428.47,348.43 429.4,372.58 430.34,350.1 431.28,346.94 432.22,355.14 433.16,358.43 434.09,346.79 435.03,350.4 435.97,361.5 436.91,348.03 437.85,347.28 438.78,383.04 439.72,351.46 440.66,346.46 441.6,366.12 442.54,353.67 443.47,346.35 444.41,350.06 445.35,355.35 446.29,346.5 447.23,350.86 448.16,363.35 449.1,345.91 450.04,350.13 450.98,389.5 451.92,346.08 452.85,346.81 453.79,358.12 454.73,348.24 455.67,344.83 456.61,352.68 457.54,355.04 458.48,344.46 459.42,346.99 460.36,371.04 461.3,345.69 462.23,344.07 463.17,363.66 464.11,349.21 465.05,342.89 465.99,347.36 466.92,349.81 467.86,342.66 468.8,345.77 469.74,359.35 470.68,342.56 471.61,342.74 472.55,373.81 473.49,344.28 474.43,340.62 475.37,351.35 476.3,347.52 477.24,339.65 478.18,343.63 479.12,352.27 480.06,339.59 480.99,340.05 481.93,388.58 482.87,340.1 483.81,337.78 484.75,351.35 485.68,341.25 486.62,336.11 487.56,342.69 488.5,346.73 489.44,335.12 490.37,338.58 491.31,365.19 492.25,334.83 493.19,335.27 494.13,352.89 495.06,335.75 496,332.95 496.94,346.73 497.88,338.26 498.82,331.6 499.75,336.56 500.69,354.43 501.63,331.47 502.57,331.46 503.51,352.27 504.44,332.31 505.38,328.52 506.32,336.58 507.26,332.32 508.2,326.26 509.13,331.1 510.07,346.12 511.01,325.6 511.95,326.63 512.89,353.19 513.82,326.01 514.76,323.8 515.7,333.81 516.64,328.51 517.58,321.79 518.51,324.57 519.45,338.73 520.39,322.23 521.33,319.92 522.27,353.19 523.2,320.87 524.14,317.26 525.08,328.27 526.02,315.86 526.96,313.6 527.89,331.04 528.83,317.12 529.77,310.96 530.71,315.72 531.65,359.96 532.58,306.67 533.52,306.39 534.46,316.27 535.4,303.36 536.34,298.12 537.27,302.42 538.21,305.81 539.15,292.58 540.09,279.04 541.03,265.5 541.96,279.04 542.9,292.58 543.84,305.81 544.78,302.42 545.72,297.81 546.65,306.45 547.59,316.33 548.53,305.38 549.47,308.44 550.41,354.85 551.34,311.1 552.28,310.36 553.22,326.08 554.16,316.81 555.1,311.83 556.03,318.37 556.97,327.42 557.91,314.96 558.85,317.46 559.79,354.96 560.72,319 561.66,317.87 562.6,333.21 563.54,323.74 564.48,318.42 565.41,324.57 566.35,332.64 567.29,320.36 568.23,322.7 569.17,355.08 570.1,324.05 571.04,322.79 571.98,338.16 572.92,328.46 573.86,323.05 574.79,329 575.73,332.62 576.67,324.39 577.61,326.38 578.55,355.19 579.48,326.92 580.42,325.45 581.36,341.34 582.3,331.13 583.24,325.72 584.17,331.66 585.11,333.96 586.05,326.92 586.99,328.82 587.93,355.31 588.86,329.17 589.8,327.62 590.74,343.9 591.68,333.11 592.62,327.61 593.55,333.46 594.49,335.88 595.43,328.67 596.37,330.57 597.31,355.43 598.24,330.92 599.18,329.37 600.12,346.42 601.06,334.73 602,329.15 602.93,334.93 603.87,337.47 604.81,329.97 605.75,331.8 606.69,355.54 607.62,331.99 608.56,330.36 609.5,348.93 610.44,335.7 611.38,330.12 612.31,335.89 613.25,338.61 614.19,330.94 615.13,332.77 616.07,355.66 617,332.95 617.94,331.32 618.88,351.42 619.82,336.65 620.76,331.06 621.69,336.83 622.63,339.72 623.57,331.87 624.51,333.7 625.45,357.52 626.38,333.88 627.32,332.25 628.26,353.59 629.2,337.58 630.14,331.99 631.07,337.77 632.01,340.83 632.95,332.81 633.89,334.63 634.83,359.37 635.76,334.82 636.7,333.19 637.64,355.18 638.58,338.52 639.52,332.94 640.45,338.71 641.39,341.95 642.33,333.76 643.27,335.58 644.21,361.23 645.14,335.77 646.08,334.13 647.02,356.77 647.96,339.47 648.9,333.88 649.83,339.65 650.77,343.07 651.71,334.7 652.65,336.52 653.59,363.09 654.52,336.71 655.46,335.08 656.4,358.36 657.34,340.41 658.28,334.82 659.21,340.6 660.15,344.19 661.09,335.58" fill="none" stroke="#7b4cc2" stroke-width="1.4" stroke-linejoin="round" stroke-linecap="butt"/></g>
<rect x="412.65" y="250.55" width="257.6" height="171.7" fill="none" stroke="#222" stroke-width="1.5"/>
<line x1="421.9" y1="422.25" x2="421.9" y2="417.25" stroke="#222" stroke-width="1.4"/>
<text x="421.9" y="440.35" text-anchor="middle" class="tk">0</text>
<line x1="468.8" y1="422.25" x2="468.8" y2="417.25" stroke="#222" stroke-width="1.4"/>
<text x="468.8" y="440.35" text-anchor="middle" class="tk">50</text>
<line x1="515.7" y1="422.25" x2="515.7" y2="417.25" stroke="#222" stroke-width="1.4"/>
<text x="515.7" y="440.35" text-anchor="middle" class="tk">100</text>
<line x1="562.6" y1="422.25" x2="562.6" y2="417.25" stroke="#222" stroke-width="1.4"/>
<text x="562.6" y="440.35" text-anchor="middle" class="tk">150</text>
<line x1="609.5" y1="422.25" x2="609.5" y2="417.25" stroke="#222" stroke-width="1.4"/>
<text x="609.5" y="440.35" text-anchor="middle" class="tk">200</text>
<line x1="656.4" y1="422.25" x2="656.4" y2="417.25" stroke="#222" stroke-width="1.4"/>
<text x="656.4" y="440.35" text-anchor="middle" class="tk">250</text>
<text x="407.05" y="271" text-anchor="end" class="tk">0</text>
<line x1="412.65" y1="296.27" x2="417.65" y2="296.27" stroke="#222" stroke-width="1.4"/>
<text x="407.05" y="301.77" text-anchor="end" class="tk">-10</text>
<line x1="412.65" y1="327.04" x2="417.65" y2="327.04" stroke="#222" stroke-width="1.4"/>
<text x="407.05" y="332.54" text-anchor="end" class="tk">-20</text>
<line x1="412.65" y1="357.81" x2="417.65" y2="357.81" stroke="#222" stroke-width="1.4"/>
<text x="407.05" y="363.31" text-anchor="end" class="tk">-30</text>
<line x1="412.65" y1="388.58" x2="417.65" y2="388.58" stroke="#222" stroke-width="1.4"/>
<text x="407.05" y="394.08" text-anchor="end" class="tk">-40</text>
<line x1="412.65" y1="419.35" x2="417.65" y2="419.35" stroke="#222" stroke-width="1.4"/>
<text x="407.05" y="424.85" text-anchor="end" class="tk">-50</text>
<line x1="415.3" y1="264.5" x2="453.3" y2="264.5" stroke="#7b4cc2" stroke-width="1.5"/>
<text x="457.1" y="270.4" class="lg">α = 0.7</text>
<text x="542.35" y="467.35" text-anchor="middle" class="xl">l</text>
<text transform="translate(364.6,374.1) rotate(-90)" class="yl">|C<tspan class="sub" dy="5.6">l, 128</tspan><tspan dy="-5.6">| (dB)</tspan></text>
</svg>
</body></html>
